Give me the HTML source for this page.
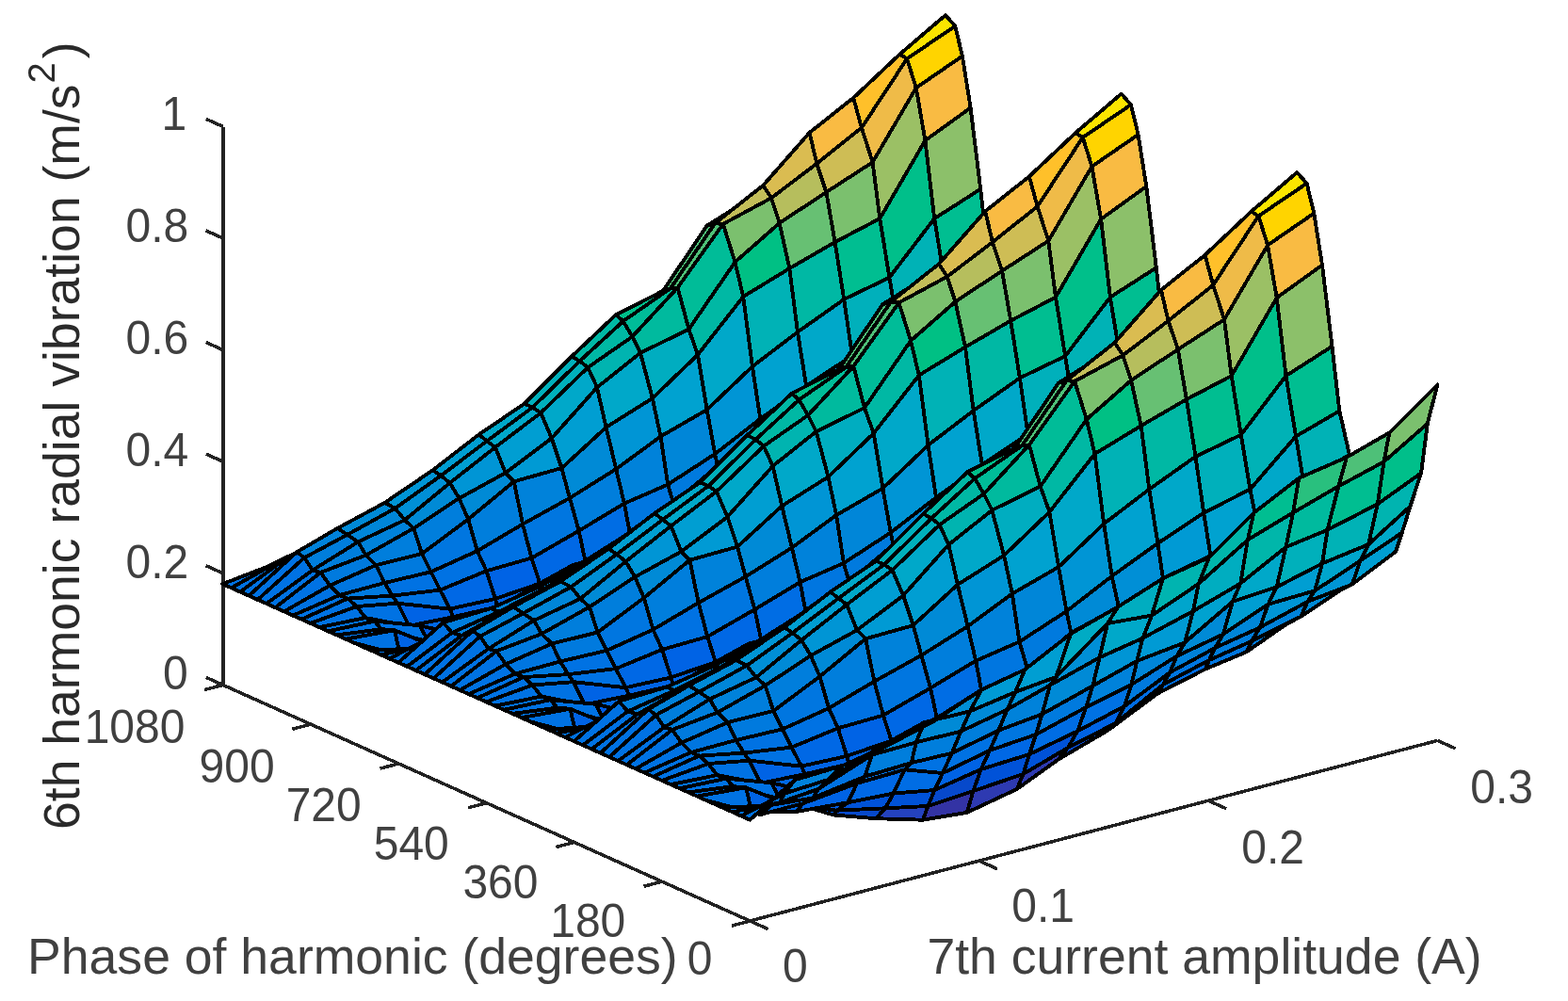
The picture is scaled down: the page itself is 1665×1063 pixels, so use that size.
<!DOCTYPE html>
<html lang="en"><head><meta charset="utf-8"><title>6th harmonic radial vibration</title>
<style>html,body{margin:0;padding:0;background:#fff}body{width:1665px;height:1063px;overflow:hidden}svg{display:block}text{font-family:"Liberation Sans",Arial,Helvetica,sans-serif;fill:#404040}.t{font-size:48px}.l{font-size:53.55px}</style></head><body>
<svg width="1665" height="1063" viewBox="0 0 1665 1063">
<rect width="1665" height="1063" fill="#fff"/>
<path d="M1526.5,786.4 L796.3,978.0 L237.0,727.5 L237.0,134.5 M796.3,978.0 L815.5,986.6 M1039.7,914.1 L1058.9,922.7 M1283.1,850.3 L1302.3,858.8 M1526.5,786.4 L1545.7,795.0 M796.3,978.0 L777.0,983.1 M703.0,936.2 L683.6,941.3 M609.6,894.5 L590.3,899.6 M516.3,852.8 L497.0,857.8 M423.0,811.0 L403.6,816.1 M329.6,769.2 L310.3,774.3 M236.3,727.5 L217.0,732.6 M237.0,727.5 L218.7,719.3 M237.0,608.9 L218.7,600.7 M237.0,490.3 L218.7,482.1 M237.0,371.7 L218.7,363.5 M237.0,253.1 L218.7,244.9 M237.0,134.5 L218.7,126.3" fill="none" stroke="#222222" stroke-width="3.5" stroke-linejoin="miter" shape-rendering="crispEdges"/>
<g stroke="#000" stroke-width="3.9" stroke-linejoin="round" shape-rendering="crispEdges">
<path d="M927.2,162.1 L975.8,118.2 L966.4,157.9 L915.3,209.0Z" fill="#cebd55"/>
<path d="M878.5,195.5 L927.2,162.1 L915.3,209.0 L870.0,235.1Z" fill="#a9bf61"/>
<path d="M829.8,226.6 L878.5,195.5 L870.0,235.1 L819.3,257.2Z" fill="#8cc06a"/>
<path d="M781.1,265.3 L829.8,226.6 L819.3,257.2 L771.3,294.2Z" fill="#4ec078"/>
<path d="M732.4,307.8 L781.1,265.3 L771.3,294.2 L724.0,341.4Z" fill="#00be91"/>
<path d="M683.8,340.8 L732.4,307.8 L724.0,341.4 L674.9,363.7Z" fill="#00ba9e"/>
<path d="M635.1,374.3 L683.8,340.8 L674.9,363.7 L627.3,393.8Z" fill="#00b4b0"/>
<path d="M586.4,408.5 L635.1,374.3 L627.3,393.8 L577.0,422.5Z" fill="#00b0bb"/>
<path d="M537.7,444.5 L586.4,408.5 L577.0,422.5 L528.4,460.5Z" fill="#00a8c9"/>
<path d="M489.0,478.5 L537.7,444.5 L528.4,460.5 L482.0,484.0Z" fill="#00a2d0"/>
<path d="M440.4,514.3 L489.0,478.5 L482.0,484.0 L432.0,520.0Z" fill="#0095d5"/>
<path d="M391.7,545.0 L440.4,514.3 L432.0,520.0 L383.3,549.5Z" fill="#008ad6"/>
<path d="M343.0,572.0 L391.7,545.0 L383.3,549.5 L334.7,576.9Z" fill="#0082da"/>
<path d="M293.3,597.7 L343.0,572.0 L334.7,576.9 L284.0,601.7Z" fill="#007edc"/>
<path d="M245.6,624.3 L293.3,597.7 L284.0,601.7 L236.3,620.2Z" fill="#0072e3"/>
<path d="M936.5,117.3 L985.2,77.8 L975.8,118.2 L927.2,162.1Z" fill="#ffbc35"/>
<path d="M887.8,156.6 L936.5,117.3 L927.2,162.1 L878.5,195.5Z" fill="#efbb48"/>
<path d="M839.1,195.6 L887.8,156.6 L878.5,195.5 L829.8,226.6Z" fill="#c3be59"/>
<path d="M790.4,233.7 L839.1,195.6 L829.8,226.6 L781.1,265.3Z" fill="#9bc065"/>
<path d="M741.8,270.0 L790.4,233.7 L781.1,265.3 L732.4,307.8Z" fill="#67c073"/>
<path d="M693.1,319.4 L741.8,270.0 L732.4,307.8 L683.8,340.8Z" fill="#00bf8a"/>
<path d="M644.4,354.4 L693.1,319.4 L683.8,340.8 L635.1,374.3Z" fill="#00ba9e"/>
<path d="M595.7,393.9 L644.4,354.4 L635.1,374.3 L586.4,408.5Z" fill="#00b4b0"/>
<path d="M547.0,437.4 L595.7,393.9 L586.4,408.5 L537.7,444.5Z" fill="#00adc0"/>
<path d="M498.4,471.3 L547.0,437.4 L537.7,444.5 L489.0,478.5Z" fill="#00a5cc"/>
<path d="M449.7,508.0 L498.4,471.3 L489.0,478.5 L440.4,514.3Z" fill="#009ad4"/>
<path d="M401.0,540.0 L449.7,508.0 L440.4,514.3 L391.7,545.0Z" fill="#008fd6"/>
<path d="M352.3,566.5 L401.0,540.0 L391.7,545.0 L343.0,572.0Z" fill="#0086d8"/>
<path d="M303.6,593.2 L352.3,566.5 L343.0,572.0 L293.3,597.7Z" fill="#007edc"/>
<path d="M255.0,628.5 L303.6,593.2 L293.3,597.7 L245.6,624.3Z" fill="#0072e3"/>
<path d="M945.8,81.3 L994.5,40.4 L985.2,77.8 L936.5,117.3Z" fill="#ffd400"/>
<path d="M897.1,124.4 L945.8,81.3 L936.5,117.3 L887.8,156.6Z" fill="#ffc02a"/>
<path d="M848.5,165.1 L897.1,124.4 L887.8,156.6 L839.1,195.6Z" fill="#f9bb43"/>
<path d="M799.8,208.7 L848.5,165.1 L839.1,195.6 L790.4,233.7Z" fill="#cebd55"/>
<path d="M750.5,239.8 L799.8,208.7 L790.4,233.7 L741.8,270.0Z" fill="#b6be5d"/>
<path d="M704.2,308.8 L750.5,239.8 L741.8,270.0 L693.1,319.4Z" fill="#29c07e"/>
<path d="M654.0,334.3 L704.2,308.8 L693.1,319.4 L644.4,354.4Z" fill="#00bf8a"/>
<path d="M607.0,378.6 L654.0,334.3 L644.4,354.4 L595.7,393.9Z" fill="#00b8a4"/>
<path d="M556.8,428.7 L607.0,378.6 L595.7,393.9 L547.0,437.4Z" fill="#00b0bb"/>
<path d="M508.5,461.5 L556.8,428.7 L547.0,437.4 L498.4,471.3Z" fill="#00a8c9"/>
<path d="M459.6,499.3 L508.5,461.5 L498.4,471.3 L449.7,508.0Z" fill="#009ed2"/>
<path d="M408.4,534.0 L459.6,499.3 L449.7,508.0 L401.0,540.0Z" fill="#0095d5"/>
<path d="M358.3,561.0 L408.4,534.0 L401.0,540.0 L352.3,566.5Z" fill="#008ad6"/>
<path d="M315.3,586.2 L358.3,561.0 L352.3,566.5 L303.6,593.2Z" fill="#0082da"/>
<path d="M264.3,632.7 L315.3,586.2 L303.6,593.2 L255.0,628.5Z" fill="#0072e3"/>
<path d="M955.4,57.6 L1004.0,16.1 L994.5,40.4 L945.8,81.3Z" fill="#fbe500"/>
<path d="M906.2,103.9 L955.4,57.6 L945.8,81.3 L897.1,124.4Z" fill="#ffcf00"/>
<path d="M859.6,140.9 L906.2,103.9 L897.1,124.4 L848.5,165.1Z" fill="#ffc02a"/>
<path d="M810.4,196.8 L859.6,140.9 L848.5,165.1 L799.8,208.7Z" fill="#e5bc4d"/>
<path d="M759.1,237.3 L810.4,196.8 L799.8,208.7 L750.5,239.8Z" fill="#b6be5d"/>
<path d="M711.9,306.3 L759.1,237.3 L750.5,239.8 L704.2,308.8Z" fill="#4ec078"/>
<path d="M661.7,341.1 L711.9,306.3 L704.2,308.8 L654.0,334.3Z" fill="#00bf8a"/>
<path d="M615.6,383.4 L661.7,341.1 L654.0,334.3 L607.0,378.6Z" fill="#00b8a4"/>
<path d="M565.5,432.6 L615.6,383.4 L607.0,378.6 L556.8,428.7Z" fill="#00b0bb"/>
<path d="M517.0,468.4 L565.5,432.6 L556.8,428.7 L508.5,461.5Z" fill="#00a8c9"/>
<path d="M468.2,505.1 L517.0,468.4 L508.5,461.5 L459.6,499.3Z" fill="#009ed2"/>
<path d="M419.6,539.8 L468.2,505.1 L459.6,499.3 L408.4,534.0Z" fill="#0095d5"/>
<path d="M368.9,567.8 L419.6,539.8 L408.4,534.0 L358.3,561.0Z" fill="#008ad6"/>
<path d="M323.1,592.3 L368.9,567.8 L358.3,561.0 L315.3,586.2Z" fill="#0082da"/>
<path d="M273.6,636.9 L323.1,592.3 L315.3,586.2 L264.3,632.7Z" fill="#0072e3"/>
<path d="M963.1,62.4 L1014.2,27.7 L1004.0,16.1 L955.4,57.6Z" fill="#fbe500"/>
<path d="M914.9,135.7 L963.1,62.4 L955.4,57.6 L906.2,103.9Z" fill="#ffc02a"/>
<path d="M867.3,173.7 L914.9,135.7 L906.2,103.9 L859.6,140.9Z" fill="#f9bb43"/>
<path d="M819.0,210.3 L867.3,173.7 L859.6,140.9 L810.4,196.8Z" fill="#dabc51"/>
<path d="M767.8,237.9 L819.0,210.3 L810.4,196.8 L759.1,237.3Z" fill="#c3be59"/>
<path d="M719.6,305.4 L767.8,237.9 L759.1,237.3 L711.9,306.3Z" fill="#4ec078"/>
<path d="M671.4,357.5 L719.6,305.4 L711.9,306.3 L661.7,341.1Z" fill="#00bc98"/>
<path d="M624.3,390.2 L671.4,357.5 L661.7,341.1 L615.6,383.4Z" fill="#00b8a4"/>
<path d="M574.2,438.4 L624.3,390.2 L615.6,383.4 L565.5,432.6Z" fill="#00b0bb"/>
<path d="M525.9,475.0 L574.2,438.4 L565.5,432.6 L517.0,468.4Z" fill="#00a8c9"/>
<path d="M477.7,512.8 L525.9,475.0 L517.0,468.4 L468.2,505.1Z" fill="#009ed2"/>
<path d="M429.7,552.3 L477.7,512.8 L468.2,505.1 L419.6,539.8Z" fill="#008fd6"/>
<path d="M380.3,575.4 L429.7,552.3 L419.6,539.8 L368.9,567.8Z" fill="#0086d8"/>
<path d="M331.9,605.5 L380.3,575.4 L368.9,567.8 L323.1,592.3Z" fill="#007edc"/>
<path d="M283.0,641.0 L331.9,605.5 L323.1,592.3 L273.6,636.9Z" fill="#0072e3"/>
<path d="M972.8,93.3 L1021.9,59.5 L1014.2,27.7 L963.1,62.4Z" fill="#ffd400"/>
<path d="M926.6,172.3 L972.8,93.3 L963.1,62.4 L914.9,135.7Z" fill="#efbb48"/>
<path d="M877.4,204.1 L926.6,172.3 L914.9,135.7 L867.3,173.7Z" fill="#cebd55"/>
<path d="M827.7,236.9 L877.4,204.1 L867.3,173.7 L819.0,210.3Z" fill="#b6be5d"/>
<path d="M780.5,278.3 L827.7,236.9 L819.0,210.3 L767.8,237.9Z" fill="#7bc06e"/>
<path d="M731.4,349.6 L780.5,278.3 L767.8,237.9 L719.6,305.4Z" fill="#00bc98"/>
<path d="M680.0,374.8 L731.4,349.6 L719.6,305.4 L671.4,357.5Z" fill="#00ba9e"/>
<path d="M634.0,411.4 L680.0,374.8 L671.4,357.5 L624.3,390.2Z" fill="#00b4b0"/>
<path d="M585.8,465.4 L634.0,411.4 L624.3,390.2 L574.2,438.4Z" fill="#00a8c9"/>
<path d="M536.7,502.2 L585.8,465.4 L574.2,438.4 L525.9,475.0Z" fill="#009ed2"/>
<path d="M487.5,529.2 L536.7,502.2 L525.9,475.0 L477.7,512.8Z" fill="#0095d5"/>
<path d="M439.3,561.0 L487.5,529.2 L477.7,512.8 L429.7,552.3Z" fill="#008ad6"/>
<path d="M388.5,589.6 L439.3,561.0 L429.7,552.3 L380.3,575.4Z" fill="#0082da"/>
<path d="M340.6,607.9 L388.5,589.6 L380.3,575.4 L331.9,605.5Z" fill="#007edc"/>
<path d="M292.3,645.2 L340.6,607.9 L331.9,605.5 L283.0,641.0Z" fill="#0072e3"/>
<path d="M982.4,149.2 L1030.6,114.5 L1021.9,59.5 L972.8,93.3Z" fill="#f9bb43"/>
<path d="M934.3,232.1 L982.4,149.2 L972.8,93.3 L926.6,172.3Z" fill="#9bc065"/>
<path d="M886.6,257.1 L934.3,232.1 L926.6,172.3 L877.4,204.1Z" fill="#7bc06e"/>
<path d="M838.3,285.1 L886.6,257.1 L877.4,204.1 L827.7,236.9Z" fill="#67c073"/>
<path d="M789.2,315.0 L838.3,285.1 L827.7,236.9 L780.5,278.3Z" fill="#00c084"/>
<path d="M741.0,376.7 L789.2,315.0 L780.5,278.3 L731.4,349.6Z" fill="#00b8a4"/>
<path d="M692.8,422.9 L741.0,376.7 L731.4,349.6 L680.0,374.8Z" fill="#00adc0"/>
<path d="M643.6,453.8 L692.8,422.9 L680.0,374.8 L634.0,411.4Z" fill="#00a8c9"/>
<path d="M596.4,497.1 L643.6,453.8 L634.0,411.4 L585.8,465.4Z" fill="#009ed2"/>
<path d="M545.8,511.3 L596.4,497.1 L585.8,465.4 L536.7,502.2Z" fill="#009ad4"/>
<path d="M497.2,551.4 L545.8,511.3 L536.7,502.2 L487.5,529.2Z" fill="#008ad6"/>
<path d="M448.0,588.0 L497.2,551.4 L487.5,529.2 L439.3,561.0Z" fill="#007edc"/>
<path d="M399.3,600.1 L448.0,588.0 L439.3,561.0 L388.5,589.6Z" fill="#007edc"/>
<path d="M350.2,621.8 L399.3,600.1 L388.5,589.6 L340.6,607.9Z" fill="#007ade"/>
<path d="M301.6,649.4 L350.2,621.8 L340.6,607.9 L292.3,645.2Z" fill="#0072e3"/>
<path d="M992.2,232.1 L1041.2,200.8 L1030.6,114.5 L982.4,149.2Z" fill="#8cc06a"/>
<path d="M944.4,294.7 L992.2,232.1 L982.4,149.2 L934.3,232.1Z" fill="#00bf8a"/>
<path d="M896.2,317.9 L944.4,294.7 L934.3,232.1 L886.6,257.1Z" fill="#00be91"/>
<path d="M847.0,352.6 L896.2,317.9 L886.6,257.1 L838.3,285.1Z" fill="#00b8a4"/>
<path d="M798.9,389.2 L847.0,352.6 L838.3,285.1 L789.2,315.0Z" fill="#00b2b6"/>
<path d="M750.7,435.1 L798.9,389.2 L789.2,315.0 L741.0,376.7Z" fill="#00a8c9"/>
<path d="M701.5,463.5 L750.7,435.1 L741.0,376.7 L692.8,422.9Z" fill="#00a2d0"/>
<path d="M654.2,498.1 L701.5,463.5 L692.8,422.9 L643.6,453.8Z" fill="#0095d5"/>
<path d="M605.0,528.9 L654.2,498.1 L643.6,453.8 L596.4,497.1Z" fill="#008ad6"/>
<path d="M555.0,556.6 L605.0,528.9 L596.4,497.1 L545.8,511.3Z" fill="#0082da"/>
<path d="M506.8,585.1 L555.0,556.6 L545.8,511.3 L497.2,551.4Z" fill="#007edc"/>
<path d="M457.6,607.3 L506.8,585.1 L497.2,551.4 L448.0,588.0Z" fill="#0076e0"/>
<path d="M408.3,619.0 L457.6,607.3 L448.0,588.0 L399.3,600.1Z" fill="#007ade"/>
<path d="M360.5,632.0 L408.3,619.0 L399.3,600.1 L350.2,621.8Z" fill="#0076e0"/>
<path d="M311.0,653.6 L360.5,632.0 L350.2,621.8 L301.6,649.4Z" fill="#0072e3"/>
<path d="M1002.7,296.4 L1048.9,269.4 L1041.2,200.8 L992.2,232.1Z" fill="#00be91"/>
<path d="M954.1,352.6 L1002.7,296.4 L992.2,232.1 L944.4,294.7Z" fill="#00b2b6"/>
<path d="M904.9,377.7 L954.1,352.6 L944.4,294.7 L896.2,317.9Z" fill="#00b0bb"/>
<path d="M856.1,409.9 L904.9,377.7 L896.2,317.9 L847.0,352.6Z" fill="#00a8c9"/>
<path d="M807.3,444.8 L856.1,409.9 L847.0,352.6 L798.9,389.2Z" fill="#00a2d0"/>
<path d="M759.2,482.1 L807.3,444.8 L798.9,389.2 L750.7,435.1Z" fill="#0095d5"/>
<path d="M709.2,514.5 L759.2,482.1 L750.7,435.1 L701.5,463.5Z" fill="#0086d8"/>
<path d="M662.9,534.7 L709.2,514.5 L701.5,463.5 L654.2,498.1Z" fill="#0082da"/>
<path d="M614.7,563.7 L662.9,534.7 L654.2,498.1 L605.0,528.9Z" fill="#007edc"/>
<path d="M564.5,592.6 L614.7,563.7 L605.0,528.9 L555.0,556.6Z" fill="#0076e0"/>
<path d="M516.5,606.3 L564.5,592.6 L555.0,556.6 L506.8,585.1Z" fill="#0072e3"/>
<path d="M467.3,626.6 L516.5,606.3 L506.8,585.1 L457.6,607.3Z" fill="#0072e3"/>
<path d="M416.7,632.6 L467.3,626.6 L457.6,607.3 L408.3,619.0Z" fill="#0072e3"/>
<path d="M369.2,635.6 L416.7,632.6 L408.3,619.0 L360.5,632.0Z" fill="#007ade"/>
<path d="M320.3,657.7 L369.2,635.6 L360.5,632.0 L311.0,653.6Z" fill="#0072e3"/>
<path d="M1011.2,346.4 L1059.6,315.7 L1048.9,269.4 L1002.7,296.4Z" fill="#00b2b6"/>
<path d="M962.5,393.5 L1011.2,346.4 L1002.7,296.4 L954.1,352.6Z" fill="#00a8c9"/>
<path d="M912.1,423.1 L962.5,393.5 L954.1,352.6 L904.9,377.7Z" fill="#00a2d0"/>
<path d="M861.5,447.2 L912.1,423.1 L904.9,377.7 L856.1,409.9Z" fill="#009ad4"/>
<path d="M814.6,477.3 L861.5,447.2 L856.1,409.9 L807.3,444.8Z" fill="#008fd6"/>
<path d="M764.0,505.0 L814.6,477.3 L807.3,444.8 L759.2,482.1Z" fill="#008ad6"/>
<path d="M717.9,544.4 L764.0,505.0 L759.2,482.1 L709.2,514.5Z" fill="#007ade"/>
<path d="M668.7,565.6 L717.9,544.4 L709.2,514.5 L662.9,534.7Z" fill="#0076e0"/>
<path d="M621.4,595.5 L668.7,565.6 L662.9,534.7 L614.7,563.7Z" fill="#006de4"/>
<path d="M573.2,619.6 L621.4,595.5 L614.7,563.7 L564.5,592.6Z" fill="#0068e5"/>
<path d="M525.9,635.9 L573.2,619.6 L564.5,592.6 L516.5,606.3Z" fill="#0063e5"/>
<path d="M477.7,646.7 L525.9,635.9 L516.5,606.3 L467.3,626.6Z" fill="#0068e5"/>
<path d="M422.3,640.7 L477.7,646.7 L467.3,626.6 L416.7,632.6Z" fill="#0072e3"/>
<path d="M378.8,644.0 L422.3,640.7 L416.7,632.6 L369.2,635.6Z" fill="#0076e0"/>
<path d="M329.6,661.9 L378.8,644.0 L369.2,635.6 L320.3,657.7Z" fill="#0072e3"/>
<path d="M1020.5,388.2 L1069.2,353.5 L1059.6,315.7 L1011.2,346.4Z" fill="#00a5cc"/>
<path d="M971.8,438.7 L1020.5,388.2 L1011.2,346.4 L962.5,393.5Z" fill="#0095d5"/>
<path d="M924.1,463.0 L971.8,438.7 L962.5,393.5 L912.1,423.1Z" fill="#008ad6"/>
<path d="M875.4,487.6 L924.1,463.0 L912.1,423.1 L861.5,447.2Z" fill="#0086d8"/>
<path d="M826.8,512.3 L875.4,487.6 L861.5,447.2 L814.6,477.3Z" fill="#0082da"/>
<path d="M777.1,535.9 L826.8,512.3 L814.6,477.3 L764.0,505.0Z" fill="#007ade"/>
<path d="M728.4,566.0 L777.1,535.9 L764.0,505.0 L717.9,544.4Z" fill="#0072e3"/>
<path d="M679.7,589.8 L728.4,566.0 L717.9,544.4 L668.7,565.6Z" fill="#006de4"/>
<path d="M631.0,613.6 L679.7,589.8 L668.7,565.6 L621.4,595.5Z" fill="#0063e5"/>
<path d="M582.4,630.4 L631.0,613.6 L621.4,595.5 L573.2,619.6Z" fill="#0063e5"/>
<path d="M528.3,644.3 L582.4,630.4 L573.2,619.6 L525.9,635.9Z" fill="#0063e5"/>
<path d="M481.3,655.1 L528.3,644.3 L525.9,635.9 L477.7,646.7Z" fill="#0063e5"/>
<path d="M434.4,664.8 L481.3,655.1 L477.7,646.7 L422.3,640.7Z" fill="#0063e5"/>
<path d="M388.1,656.1 L434.4,664.8 L422.3,640.7 L378.8,644.0Z" fill="#0072e3"/>
<path d="M339.0,666.1 L388.1,656.1 L378.8,644.0 L329.6,661.9Z" fill="#0072e3"/>
<path d="M1029.8,429.3 L1078.5,387.3 L1069.2,353.5 L1020.5,388.2Z" fill="#0095d5"/>
<path d="M983.1,471.0 L1029.8,429.3 L1020.5,388.2 L971.8,438.7Z" fill="#0082da"/>
<path d="M935.5,502.8 L983.1,471.0 L971.8,438.7 L924.1,463.0Z" fill="#007ade"/>
<path d="M886.8,527.4 L935.5,502.8 L924.1,463.0 L875.4,487.6Z" fill="#0076e0"/>
<path d="M838.1,552.0 L886.8,527.4 L875.4,487.6 L826.8,512.3Z" fill="#006de4"/>
<path d="M786.4,576.8 L838.1,552.0 L826.8,512.3 L777.1,535.9Z" fill="#0068e5"/>
<path d="M737.7,612.1 L786.4,576.8 L777.1,535.9 L728.4,566.0Z" fill="#0052d8"/>
<path d="M689.1,641.8 L737.7,612.1 L728.4,566.0 L679.7,589.8Z" fill="#2442be"/>
<path d="M640.4,664.2 L689.1,641.8 L679.7,589.8 L631.0,613.6Z" fill="#2e3ab1"/>
<path d="M591.7,673.0 L640.4,664.2 L631.0,613.6 L582.4,630.4Z" fill="#2e3ab1"/>
<path d="M543.0,672.1 L591.7,673.0 L582.4,630.4 L528.3,644.3Z" fill="#0749cb"/>
<path d="M494.3,675.6 L543.0,672.1 L528.3,644.3 L481.3,655.1Z" fill="#0052d8"/>
<path d="M445.7,664.3 L494.3,675.6 L481.3,655.1 L434.4,664.8Z" fill="#0068e5"/>
<path d="M397.8,659.7 L445.7,664.3 L434.4,664.8 L388.1,656.1Z" fill="#0072e3"/>
<path d="M348.3,670.3 L397.8,659.7 L388.1,656.1 L339.0,666.1Z" fill="#0072e3"/>
<path d="M1041.2,447.6 L1088.8,412.3 L1078.5,387.3 L1029.8,429.3Z" fill="#008ad6"/>
<path d="M993.5,495.3 L1041.2,447.6 L1029.8,429.3 L983.1,471.0Z" fill="#007ade"/>
<path d="M950.1,525.4 L993.5,495.3 L983.1,471.0 L935.5,502.8Z" fill="#0072e3"/>
<path d="M906.6,543.5 L950.1,525.4 L935.5,502.8 L886.8,527.4Z" fill="#006de4"/>
<path d="M855.9,569.5 L906.6,543.5 L886.8,527.4 L838.1,552.0Z" fill="#0068e5"/>
<path d="M803.3,608.5 L855.9,569.5 L838.1,552.0 L786.4,576.8Z" fill="#0749cb"/>
<path d="M750.2,639.7 L803.3,608.5 L786.4,576.8 L737.7,612.1Z" fill="#2e3ab1"/>
<path d="M706.5,671.0 L750.2,639.7 L737.7,612.1 L689.1,641.8Z" fill="#352d97"/>
<path d="M653.4,695.9 L706.5,671.0 L689.1,641.8 L640.4,664.2Z" fill="#36268b"/>
<path d="M606.6,703.7 L653.4,695.9 L640.4,664.2 L591.7,673.0Z" fill="#36268b"/>
<path d="M556.6,702.2 L606.6,703.7 L591.7,673.0 L543.0,672.1Z" fill="#3333a4"/>
<path d="M511.7,698.5 L556.6,702.2 L543.0,672.1 L494.3,675.6Z" fill="#2442be"/>
<path d="M455.0,681.5 L511.7,698.5 L494.3,675.6 L445.7,664.3Z" fill="#005be2"/>
<path d="M405.0,668.1 L455.0,681.5 L445.7,664.3 L397.8,659.7Z" fill="#0072e3"/>
<path d="M357.6,674.4 L405.0,668.1 L397.8,659.7 L348.3,670.3Z" fill="#0072e3"/>
<path d="M1051.5,458.9 L1099.2,424.2 L1088.8,412.3 L1041.2,447.6Z" fill="#0086d8"/>
<path d="M1008.0,487.8 L1051.5,458.9 L1041.2,447.6 L993.5,495.3Z" fill="#007edc"/>
<path d="M955.9,513.8 L1008.0,487.8 L993.5,495.3 L950.1,525.4Z" fill="#007ade"/>
<path d="M910.7,534.0 L955.9,513.8 L950.1,525.4 L906.6,543.5Z" fill="#0076e0"/>
<path d="M861.7,560.0 L910.7,534.0 L906.6,543.5 L855.9,569.5Z" fill="#006de4"/>
<path d="M811.2,601.0 L861.7,560.0 L855.9,569.5 L803.3,608.5Z" fill="#005be2"/>
<path d="M760.7,627.0 L811.2,601.0 L803.3,608.5 L750.2,639.7Z" fill="#0749cb"/>
<path d="M713.2,655.0 L760.7,627.0 L750.2,639.7 L706.5,671.0Z" fill="#2e3ab1"/>
<path d="M660.2,673.0 L713.2,655.0 L706.5,671.0 L653.4,695.9Z" fill="#2e3ab1"/>
<path d="M612.2,689.0 L660.2,673.0 L653.4,695.9 L606.6,703.7Z" fill="#3333a4"/>
<path d="M566.8,691.3 L612.2,689.0 L606.6,703.7 L556.6,702.2Z" fill="#2442be"/>
<path d="M515.0,693.7 L566.8,691.3 L556.6,702.2 L511.7,698.5Z" fill="#0749cb"/>
<path d="M464.3,687.6 L515.0,693.7 L511.7,698.5 L455.0,681.5Z" fill="#005be2"/>
<path d="M418.9,669.3 L464.3,687.6 L455.0,681.5 L405.0,668.1Z" fill="#0072e3"/>
<path d="M367.0,678.6 L418.9,669.3 L405.0,668.1 L357.6,674.4Z" fill="#0072e3"/>
<path d="M1062.4,453.6 L1108.7,418.8 L1099.2,424.2 L1051.5,458.9Z" fill="#008fd6"/>
<path d="M1015.3,471.8 L1062.4,453.6 L1051.5,458.9 L1008.0,487.8Z" fill="#008ad6"/>
<path d="M964.6,499.3 L1015.3,471.8 L1008.0,487.8 L955.9,513.8Z" fill="#0082da"/>
<path d="M916.8,521.1 L964.6,499.3 L955.9,513.8 L910.7,534.0Z" fill="#007edc"/>
<path d="M869.0,547.1 L916.8,521.1 L910.7,534.0 L861.7,560.0Z" fill="#0076e0"/>
<path d="M820.8,582.9 L869.0,547.1 L861.7,560.0 L811.2,601.0Z" fill="#006de4"/>
<path d="M770.9,609.4 L820.8,582.9 L811.2,601.0 L760.7,627.0Z" fill="#0063e5"/>
<path d="M719.7,634.0 L770.9,609.4 L760.7,627.0 L713.2,655.0Z" fill="#0052d8"/>
<path d="M668.3,650.0 L719.7,634.0 L713.2,655.0 L660.2,673.0Z" fill="#0052d8"/>
<path d="M619.1,672.0 L668.3,650.0 L660.2,673.0 L612.2,689.0Z" fill="#0749cb"/>
<path d="M575.2,675.6 L619.1,672.0 L612.2,689.0 L566.8,691.3Z" fill="#0052d8"/>
<path d="M527.1,685.2 L575.2,675.6 L566.8,691.3 L515.0,693.7Z" fill="#0052d8"/>
<path d="M472.9,694.9 L527.1,685.2 L515.0,693.7 L464.3,687.6Z" fill="#005be2"/>
<path d="M425.0,695.7 L472.9,694.9 L464.3,687.6 L418.9,669.3Z" fill="#0063e5"/>
<path d="M376.3,682.8 L425.0,695.7 L418.9,669.3 L367.0,678.6Z" fill="#0072e3"/>
<path d="M1071.1,428.5 L1115.5,398.6 L1108.7,418.8 L1062.4,453.6Z" fill="#009ed2"/>
<path d="M1022.9,460.3 L1071.1,428.5 L1062.4,453.6 L1015.3,471.8Z" fill="#0095d5"/>
<path d="M973.3,474.7 L1022.9,460.3 L1015.3,471.8 L964.6,499.3Z" fill="#0095d5"/>
<path d="M925.5,506.6 L973.3,474.7 L964.6,499.3 L916.8,521.1Z" fill="#0086d8"/>
<path d="M876.2,529.8 L925.5,506.6 L916.8,521.1 L869.0,547.1Z" fill="#0082da"/>
<path d="M828.0,560.0 L876.2,529.8 L869.0,547.1 L820.8,582.9Z" fill="#007ade"/>
<path d="M779.9,584.1 L828.0,560.0 L820.8,582.9 L770.9,609.4Z" fill="#0072e3"/>
<path d="M726.7,613.0 L779.9,584.1 L770.9,609.4 L719.7,634.0Z" fill="#006de4"/>
<path d="M677.7,629.9 L726.7,613.0 L719.7,634.0 L668.3,650.0Z" fill="#0068e5"/>
<path d="M627.7,654.0 L677.7,629.9 L668.3,650.0 L619.1,672.0Z" fill="#0063e5"/>
<path d="M587.3,650.3 L627.7,654.0 L619.1,672.0 L575.2,675.6Z" fill="#006de4"/>
<path d="M536.7,664.8 L587.3,650.3 L575.2,675.6 L527.1,685.2Z" fill="#0068e5"/>
<path d="M478.9,686.4 L536.7,664.8 L527.1,685.2 L472.9,694.9Z" fill="#0063e5"/>
<path d="M434.3,698.0 L478.9,686.4 L472.9,694.9 L425.0,695.7Z" fill="#0068e5"/>
<path d="M385.6,687.0 L434.3,698.0 L425.0,695.7 L376.3,682.8Z" fill="#0072e3"/>
<path d="M1079.8,411.1 L1124.2,370.6 L1115.5,398.6 L1071.1,428.5Z" fill="#00a8c9"/>
<path d="M1030.6,431.4 L1079.8,411.1 L1071.1,428.5 L1022.9,460.3Z" fill="#00a5cc"/>
<path d="M982.4,456.4 L1030.6,431.4 L1022.9,460.3 L973.3,474.7Z" fill="#009ed2"/>
<path d="M935.6,471.8 L982.4,456.4 L973.3,474.7 L925.5,506.6Z" fill="#009ed2"/>
<path d="M884.9,515.3 L935.6,471.8 L925.5,506.6 L876.2,529.8Z" fill="#008ad6"/>
<path d="M834.1,534.8 L884.9,515.3 L876.2,529.8 L828.0,560.0Z" fill="#0086d8"/>
<path d="M787.1,561.3 L834.1,534.8 L828.0,560.0 L779.9,584.1Z" fill="#0082da"/>
<path d="M733.3,591.4 L787.1,561.3 L779.9,584.1 L726.7,613.0Z" fill="#007ade"/>
<path d="M687.0,608.7 L733.3,591.4 L726.7,613.0 L677.7,629.9Z" fill="#0076e0"/>
<path d="M637.4,632.8 L687.0,608.7 L677.7,629.9 L627.7,654.0Z" fill="#0072e3"/>
<path d="M594.5,643.1 L637.4,632.8 L627.7,654.0 L587.3,650.3Z" fill="#0072e3"/>
<path d="M545.1,657.6 L594.5,643.1 L587.3,650.3 L536.7,664.8Z" fill="#0072e3"/>
<path d="M489.7,680.4 L545.1,657.6 L536.7,664.8 L478.9,686.4Z" fill="#006de4"/>
<path d="M446.4,687.7 L489.7,680.4 L478.9,686.4 L434.3,698.0Z" fill="#006de4"/>
<path d="M395.0,691.1 L446.4,687.7 L434.3,698.0 L385.6,687.0Z" fill="#0072e3"/>
<path d="M1089.5,368.3 L1135.7,335.3 L1124.2,370.6 L1079.8,411.1Z" fill="#00b4b0"/>
<path d="M1036.4,395.7 L1089.5,368.3 L1079.8,411.1 L1030.6,431.4Z" fill="#00b2b6"/>
<path d="M992.0,414.0 L1036.4,395.7 L1030.6,431.4 L982.4,456.4Z" fill="#00b0bb"/>
<path d="M943.8,452.6 L992.0,414.0 L982.4,456.4 L935.6,471.8Z" fill="#00a8c9"/>
<path d="M893.6,482.0 L943.8,452.6 L935.6,471.8 L884.9,515.3Z" fill="#00a2d0"/>
<path d="M840.1,510.7 L893.6,482.0 L884.9,515.3 L834.1,534.8Z" fill="#009ad4"/>
<path d="M794.3,531.2 L840.1,510.7 L834.1,534.8 L787.1,561.3Z" fill="#0095d5"/>
<path d="M741.6,560.7 L794.3,531.2 L787.1,561.3 L733.3,591.4Z" fill="#008ad6"/>
<path d="M696.2,586.5 L741.6,560.7 L733.3,591.4 L687.0,608.7Z" fill="#0082da"/>
<path d="M647.1,609.6 L696.2,586.5 L687.0,608.7 L637.4,632.8Z" fill="#007edc"/>
<path d="M599.3,621.4 L647.1,609.6 L637.4,632.8 L594.5,643.1Z" fill="#007edc"/>
<path d="M552.4,634.7 L599.3,621.4 L594.5,643.1 L545.1,657.6Z" fill="#007edc"/>
<path d="M495.8,670.8 L552.4,634.7 L545.1,657.6 L489.7,680.4Z" fill="#0072e3"/>
<path d="M454.8,685.2 L495.8,670.8 L489.7,680.4 L446.4,687.7Z" fill="#0072e3"/>
<path d="M404.3,695.3 L454.8,685.2 L446.4,687.7 L395.0,691.1Z" fill="#0072e3"/>
<path d="M1096.2,323.4 L1142.5,282.9 L1135.7,335.3 L1089.5,368.3Z" fill="#00bf8a"/>
<path d="M1048.0,349.4 L1096.2,323.4 L1089.5,368.3 L1036.4,395.7Z" fill="#00be91"/>
<path d="M999.8,377.4 L1048.0,349.4 L1036.4,395.7 L992.0,414.0Z" fill="#00ba9e"/>
<path d="M951.5,406.3 L999.8,377.4 L992.0,414.0 L943.8,452.6Z" fill="#00b6aa"/>
<path d="M899.4,453.0 L951.5,406.3 L943.8,452.6 L893.6,482.0Z" fill="#00adc0"/>
<path d="M849.7,486.6 L899.4,453.0 L893.6,482.0 L840.1,510.7Z" fill="#00a5cc"/>
<path d="M802.8,495.0 L849.7,486.6 L840.1,510.7 L794.3,531.2Z" fill="#00a8c9"/>
<path d="M748.1,551.9 L802.8,495.0 L794.3,531.2 L741.6,560.7Z" fill="#008fd6"/>
<path d="M704.7,568.0 L748.1,551.9 L741.6,560.7 L696.2,586.5Z" fill="#008fd6"/>
<path d="M656.7,588.4 L704.7,568.0 L696.2,586.5 L647.1,609.6Z" fill="#008ad6"/>
<path d="M608.3,600.0 L656.7,588.4 L647.1,609.6 L599.3,621.4Z" fill="#008ad6"/>
<path d="M559.7,627.0 L608.3,600.0 L599.3,621.4 L552.4,634.7Z" fill="#0086d8"/>
<path d="M505.4,661.2 L559.7,627.0 L552.4,634.7 L495.8,670.8Z" fill="#007ade"/>
<path d="M459.6,675.6 L505.4,661.2 L495.8,670.8 L454.8,685.2Z" fill="#007ade"/>
<path d="M413.6,699.5 L459.6,675.6 L454.8,685.2 L404.3,695.3Z" fill="#0072e3"/>
<path d="M1102.0,292.5 L1153.1,241.4 L1142.5,282.9 L1096.2,323.4Z" fill="#7bc06e"/>
<path d="M1056.7,318.6 L1102.0,292.5 L1096.2,323.4 L1048.0,349.4Z" fill="#4ec078"/>
<path d="M1005.9,340.7 L1056.7,318.6 L1048.0,349.4 L999.8,377.4Z" fill="#29c07e"/>
<path d="M957.9,377.7 L1005.9,340.7 L999.8,377.4 L951.5,406.3Z" fill="#00be91"/>
<path d="M910.7,424.9 L957.9,377.7 L951.5,406.3 L899.4,453.0Z" fill="#00b6aa"/>
<path d="M861.6,447.2 L910.7,424.9 L899.4,453.0 L849.7,486.6Z" fill="#00b4b0"/>
<path d="M814.0,477.3 L861.6,447.2 L849.7,486.6 L802.8,495.0Z" fill="#00adc0"/>
<path d="M763.7,506.0 L814.0,477.3 L802.8,495.0 L748.1,551.9Z" fill="#00abc4"/>
<path d="M715.1,544.0 L763.7,506.0 L748.1,551.9 L704.7,568.0Z" fill="#009ed2"/>
<path d="M668.7,565.6 L715.1,544.0 L704.7,568.0 L656.7,588.4Z" fill="#009ad4"/>
<path d="M618.7,598.6 L668.7,565.6 L656.7,588.4 L608.3,600.0Z" fill="#008fd6"/>
<path d="M570.0,624.4 L618.7,598.6 L608.3,600.0 L559.7,627.0Z" fill="#0086d8"/>
<path d="M521.3,646.1 L570.0,624.4 L559.7,627.0 L505.4,661.2Z" fill="#0082da"/>
<path d="M470.6,661.2 L521.3,646.1 L505.4,661.2 L459.6,675.6Z" fill="#0082da"/>
<path d="M423.0,703.7 L470.6,661.2 L459.6,675.6 L413.6,699.5Z" fill="#0072e3"/>
<path d="M1113.8,245.6 L1162.5,201.7 L1153.1,241.4 L1102.0,292.5Z" fill="#cebd55"/>
<path d="M1065.1,279.0 L1113.8,245.6 L1102.0,292.5 L1056.7,318.6Z" fill="#a9bf61"/>
<path d="M1016.5,310.1 L1065.1,279.0 L1056.7,318.6 L1005.9,340.7Z" fill="#8cc06a"/>
<path d="M967.8,348.8 L1016.5,310.1 L1005.9,340.7 L957.9,377.7Z" fill="#4ec078"/>
<path d="M919.1,391.3 L967.8,348.8 L957.9,377.7 L910.7,424.9Z" fill="#00be91"/>
<path d="M870.4,424.3 L919.1,391.3 L910.7,424.9 L861.6,447.2Z" fill="#00ba9e"/>
<path d="M821.7,457.8 L870.4,424.3 L861.6,447.2 L814.0,477.3Z" fill="#00b4b0"/>
<path d="M773.1,492.0 L821.7,457.8 L814.0,477.3 L763.7,506.0Z" fill="#00b0bb"/>
<path d="M724.4,528.0 L773.1,492.0 L763.7,506.0 L715.1,544.0Z" fill="#00a8c9"/>
<path d="M675.7,559.7 L724.4,528.0 L715.1,544.0 L668.7,565.6Z" fill="#00a2d0"/>
<path d="M627.0,596.3 L675.7,559.7 L668.7,565.6 L618.7,598.6Z" fill="#0095d5"/>
<path d="M578.3,625.0 L627.0,596.3 L618.7,598.6 L570.0,624.4Z" fill="#008ad6"/>
<path d="M529.7,649.7 L578.3,625.0 L570.0,624.4 L521.3,646.1Z" fill="#0082da"/>
<path d="M480.0,671.9 L529.7,649.7 L521.3,646.1 L470.6,661.2Z" fill="#007edc"/>
<path d="M432.3,707.8 L480.0,671.9 L470.6,661.2 L423.0,703.7Z" fill="#0072e3"/>
<path d="M1123.2,200.8 L1171.8,161.3 L1162.5,201.7 L1113.8,245.6Z" fill="#ffbc35"/>
<path d="M1074.5,240.1 L1123.2,200.8 L1113.8,245.6 L1065.1,279.0Z" fill="#efbb48"/>
<path d="M1025.8,279.1 L1074.5,240.1 L1065.1,279.0 L1016.5,310.1Z" fill="#c3be59"/>
<path d="M977.1,317.2 L1025.8,279.1 L1016.5,310.1 L967.8,348.8Z" fill="#9bc065"/>
<path d="M928.4,353.5 L977.1,317.2 L967.8,348.8 L919.1,391.3Z" fill="#67c073"/>
<path d="M879.8,402.9 L928.4,353.5 L919.1,391.3 L870.4,424.3Z" fill="#00bf8a"/>
<path d="M831.1,437.9 L879.8,402.9 L870.4,424.3 L821.7,457.8Z" fill="#00ba9e"/>
<path d="M782.4,477.4 L831.1,437.9 L821.7,457.8 L773.1,492.0Z" fill="#00b4b0"/>
<path d="M733.7,518.7 L782.4,477.4 L773.1,492.0 L724.4,528.0Z" fill="#00adc0"/>
<path d="M685.0,553.2 L733.7,518.7 L724.4,528.0 L675.7,559.7Z" fill="#00a5cc"/>
<path d="M636.4,591.5 L685.0,553.2 L675.7,559.7 L627.0,596.3Z" fill="#009ad4"/>
<path d="M587.7,623.3 L636.4,591.5 L627.0,596.3 L578.3,625.0Z" fill="#008fd6"/>
<path d="M539.0,647.3 L587.7,623.3 L578.3,625.0 L529.7,649.7Z" fill="#0086d8"/>
<path d="M490.3,674.9 L539.0,647.3 L529.7,649.7 L480.0,671.9Z" fill="#007edc"/>
<path d="M441.6,712.0 L490.3,674.9 L480.0,671.9 L432.3,707.8Z" fill="#0072e3"/>
<path d="M1132.5,164.8 L1181.2,123.9 L1171.8,161.3 L1123.2,200.8Z" fill="#ffd400"/>
<path d="M1083.8,207.9 L1132.5,164.8 L1123.2,200.8 L1074.5,240.1Z" fill="#ffc02a"/>
<path d="M1035.1,248.6 L1083.8,207.9 L1074.5,240.1 L1025.8,279.1Z" fill="#f9bb43"/>
<path d="M986.4,292.2 L1035.1,248.6 L1025.8,279.1 L977.1,317.2Z" fill="#cebd55"/>
<path d="M937.1,323.3 L986.4,292.2 L977.1,317.2 L928.4,353.5Z" fill="#b6be5d"/>
<path d="M890.8,392.3 L937.1,323.3 L928.4,353.5 L879.8,402.9Z" fill="#29c07e"/>
<path d="M840.7,417.8 L890.8,392.3 L879.8,402.9 L831.1,437.9Z" fill="#00bf8a"/>
<path d="M793.6,462.1 L840.7,417.8 L831.1,437.9 L782.4,477.4Z" fill="#00b8a4"/>
<path d="M743.5,512.2 L793.6,462.1 L782.4,477.4 L733.7,518.7Z" fill="#00b0bb"/>
<path d="M695.2,545.0 L743.5,512.2 L733.7,518.7 L685.0,553.2Z" fill="#00a8c9"/>
<path d="M646.2,582.8 L695.2,545.0 L685.0,553.2 L636.4,591.5Z" fill="#009ed2"/>
<path d="M595.1,617.5 L646.2,582.8 L636.4,591.5 L587.7,623.3Z" fill="#0095d5"/>
<path d="M545.0,644.5 L595.1,617.5 L587.7,623.3 L539.0,647.3Z" fill="#008ad6"/>
<path d="M502.0,669.7 L545.0,644.5 L539.0,647.3 L490.3,674.9Z" fill="#0082da"/>
<path d="M451.0,716.2 L502.0,669.7 L490.3,674.9 L441.6,712.0Z" fill="#0072e3"/>
<path d="M1142.1,141.1 L1190.7,99.6 L1181.2,123.9 L1132.5,164.8Z" fill="#fbe500"/>
<path d="M1092.9,187.4 L1142.1,141.1 L1132.5,164.8 L1083.8,207.9Z" fill="#ffcf00"/>
<path d="M1046.2,224.4 L1092.9,187.4 L1083.8,207.9 L1035.1,248.6Z" fill="#ffc02a"/>
<path d="M997.0,280.3 L1046.2,224.4 L1035.1,248.6 L986.4,292.2Z" fill="#e5bc4d"/>
<path d="M945.8,320.8 L997.0,280.3 L986.4,292.2 L937.1,323.3Z" fill="#b6be5d"/>
<path d="M898.5,389.8 L945.8,320.8 L937.1,323.3 L890.8,392.3Z" fill="#4ec078"/>
<path d="M848.4,424.6 L898.5,389.8 L890.8,392.3 L840.7,417.8Z" fill="#00bf8a"/>
<path d="M802.3,466.9 L848.4,424.6 L840.7,417.8 L793.6,462.1Z" fill="#00b8a4"/>
<path d="M752.2,516.1 L802.3,466.9 L793.6,462.1 L743.5,512.2Z" fill="#00b0bb"/>
<path d="M703.7,551.9 L752.2,516.1 L743.5,512.2 L695.2,545.0Z" fill="#00a8c9"/>
<path d="M654.9,588.6 L703.7,551.9 L695.2,545.0 L646.2,582.8Z" fill="#009ed2"/>
<path d="M606.3,623.3 L654.9,588.6 L646.2,582.8 L595.1,617.5Z" fill="#0095d5"/>
<path d="M555.6,651.3 L606.3,623.3 L595.1,617.5 L545.0,644.5Z" fill="#008ad6"/>
<path d="M509.8,675.8 L555.6,651.3 L545.0,644.5 L502.0,669.7Z" fill="#0082da"/>
<path d="M460.3,720.4 L509.8,675.8 L502.0,669.7 L451.0,716.2Z" fill="#0072e3"/>
<path d="M1149.8,145.9 L1200.9,111.2 L1190.7,99.6 L1142.1,141.1Z" fill="#fbe500"/>
<path d="M1101.6,219.2 L1149.8,145.9 L1142.1,141.1 L1092.9,187.4Z" fill="#ffc02a"/>
<path d="M1053.9,257.2 L1101.6,219.2 L1092.9,187.4 L1046.2,224.4Z" fill="#f9bb43"/>
<path d="M1005.7,293.8 L1053.9,257.2 L1046.2,224.4 L997.0,280.3Z" fill="#dabc51"/>
<path d="M954.5,321.4 L1005.7,293.8 L997.0,280.3 L945.8,320.8Z" fill="#c3be59"/>
<path d="M906.3,388.9 L954.5,321.4 L945.8,320.8 L898.5,389.8Z" fill="#4ec078"/>
<path d="M858.0,441.0 L906.3,388.9 L898.5,389.8 L848.4,424.6Z" fill="#00bc98"/>
<path d="M811.0,473.7 L858.0,441.0 L848.4,424.6 L802.3,466.9Z" fill="#00b8a4"/>
<path d="M760.8,521.9 L811.0,473.7 L802.3,466.9 L752.2,516.1Z" fill="#00b0bb"/>
<path d="M712.6,558.5 L760.8,521.9 L752.2,516.1 L703.7,551.9Z" fill="#00a8c9"/>
<path d="M664.4,596.3 L712.6,558.5 L703.7,551.9 L654.9,588.6Z" fill="#009ed2"/>
<path d="M616.3,635.8 L664.4,596.3 L654.9,588.6 L606.3,623.3Z" fill="#008fd6"/>
<path d="M567.0,658.9 L616.3,635.8 L606.3,623.3 L555.6,651.3Z" fill="#0086d8"/>
<path d="M518.6,689.0 L567.0,658.9 L555.6,651.3 L509.8,675.8Z" fill="#007edc"/>
<path d="M469.6,724.5 L518.6,689.0 L509.8,675.8 L460.3,720.4Z" fill="#0072e3"/>
<path d="M1159.4,176.8 L1208.6,143.0 L1200.9,111.2 L1149.8,145.9Z" fill="#ffd400"/>
<path d="M1113.3,255.8 L1159.4,176.8 L1149.8,145.9 L1101.6,219.2Z" fill="#efbb48"/>
<path d="M1064.1,287.6 L1113.3,255.8 L1101.6,219.2 L1053.9,257.2Z" fill="#cebd55"/>
<path d="M1014.4,320.4 L1064.1,287.6 L1053.9,257.2 L1005.7,293.8Z" fill="#b6be5d"/>
<path d="M967.1,361.8 L1014.4,320.4 L1005.7,293.8 L954.5,321.4Z" fill="#7bc06e"/>
<path d="M918.0,433.1 L967.1,361.8 L954.5,321.4 L906.3,388.9Z" fill="#00bc98"/>
<path d="M866.7,458.3 L918.0,433.1 L906.3,388.9 L858.0,441.0Z" fill="#00ba9e"/>
<path d="M820.6,494.9 L866.7,458.3 L858.0,441.0 L811.0,473.7Z" fill="#00b4b0"/>
<path d="M772.4,548.9 L820.6,494.9 L811.0,473.7 L760.8,521.9Z" fill="#00a8c9"/>
<path d="M723.4,585.7 L772.4,548.9 L760.8,521.9 L712.6,558.5Z" fill="#009ed2"/>
<path d="M674.2,612.7 L723.4,585.7 L712.6,558.5 L664.4,596.3Z" fill="#0095d5"/>
<path d="M626.0,644.5 L674.2,612.7 L664.4,596.3 L616.3,635.8Z" fill="#008ad6"/>
<path d="M575.2,673.1 L626.0,644.5 L616.3,635.8 L567.0,658.9Z" fill="#0082da"/>
<path d="M527.3,691.4 L575.2,673.1 L567.0,658.9 L518.6,689.0Z" fill="#007edc"/>
<path d="M479.0,728.7 L527.3,691.4 L518.6,689.0 L469.6,724.5Z" fill="#0072e3"/>
<path d="M1169.1,232.7 L1217.3,198.0 L1208.6,143.0 L1159.4,176.8Z" fill="#f9bb43"/>
<path d="M1121.0,315.6 L1169.1,232.7 L1159.4,176.8 L1113.3,255.8Z" fill="#9bc065"/>
<path d="M1073.2,340.6 L1121.0,315.6 L1113.3,255.8 L1064.1,287.6Z" fill="#7bc06e"/>
<path d="M1025.0,368.6 L1073.2,340.6 L1064.1,287.6 L1014.4,320.4Z" fill="#67c073"/>
<path d="M975.8,398.5 L1025.0,368.6 L1014.4,320.4 L967.1,361.8Z" fill="#00c084"/>
<path d="M927.7,460.2 L975.8,398.5 L967.1,361.8 L918.0,433.1Z" fill="#00b8a4"/>
<path d="M879.5,506.4 L927.7,460.2 L918.0,433.1 L866.7,458.3Z" fill="#00adc0"/>
<path d="M830.3,537.3 L879.5,506.4 L866.7,458.3 L820.6,494.9Z" fill="#00a8c9"/>
<path d="M783.0,580.6 L830.3,537.3 L820.6,494.9 L772.4,548.9Z" fill="#009ed2"/>
<path d="M732.4,594.8 L783.0,580.6 L772.4,548.9 L723.4,585.7Z" fill="#009ad4"/>
<path d="M683.8,634.9 L732.4,594.8 L723.4,585.7 L674.2,612.7Z" fill="#008ad6"/>
<path d="M634.6,671.5 L683.8,634.9 L674.2,612.7 L626.0,644.5Z" fill="#007edc"/>
<path d="M586.0,683.6 L634.6,671.5 L626.0,644.5 L575.2,673.1Z" fill="#007edc"/>
<path d="M536.9,705.3 L586.0,683.6 L575.2,673.1 L527.3,691.4Z" fill="#007ade"/>
<path d="M488.3,732.9 L536.9,705.3 L527.3,691.4 L479.0,728.7Z" fill="#0072e3"/>
<path d="M1178.9,315.6 L1227.8,284.3 L1217.3,198.0 L1169.1,232.7Z" fill="#8cc06a"/>
<path d="M1131.1,378.2 L1178.9,315.6 L1169.1,232.7 L1121.0,315.6Z" fill="#00bf8a"/>
<path d="M1082.9,401.4 L1131.1,378.2 L1121.0,315.6 L1073.2,340.6Z" fill="#00be91"/>
<path d="M1033.7,436.1 L1082.9,401.4 L1073.2,340.6 L1025.0,368.6Z" fill="#00b8a4"/>
<path d="M985.6,472.7 L1033.7,436.1 L1025.0,368.6 L975.8,398.5Z" fill="#00b2b6"/>
<path d="M937.4,518.6 L985.6,472.7 L975.8,398.5 L927.7,460.2Z" fill="#00a8c9"/>
<path d="M888.1,547.0 L937.4,518.6 L927.7,460.2 L879.5,506.4Z" fill="#00a2d0"/>
<path d="M840.9,581.6 L888.1,547.0 L879.5,506.4 L830.3,537.3Z" fill="#0095d5"/>
<path d="M791.7,612.4 L840.9,581.6 L830.3,537.3 L783.0,580.6Z" fill="#008ad6"/>
<path d="M741.7,640.1 L791.7,612.4 L783.0,580.6 L732.4,594.8Z" fill="#0082da"/>
<path d="M693.5,668.6 L741.7,640.1 L732.4,594.8 L683.8,634.9Z" fill="#007edc"/>
<path d="M644.3,690.8 L693.5,668.6 L683.8,634.9 L634.6,671.5Z" fill="#0076e0"/>
<path d="M594.9,702.5 L644.3,690.8 L634.6,671.5 L586.0,683.6Z" fill="#007ade"/>
<path d="M547.1,715.5 L594.9,702.5 L586.0,683.6 L536.9,705.3Z" fill="#0076e0"/>
<path d="M497.6,737.1 L547.1,715.5 L536.9,705.3 L488.3,732.9Z" fill="#0072e3"/>
<path d="M1189.3,379.9 L1235.6,352.9 L1227.8,284.3 L1178.9,315.6Z" fill="#00be91"/>
<path d="M1140.7,436.1 L1189.3,379.9 L1178.9,315.6 L1131.1,378.2Z" fill="#00b2b6"/>
<path d="M1091.5,461.2 L1140.7,436.1 L1131.1,378.2 L1082.9,401.4Z" fill="#00b0bb"/>
<path d="M1042.8,493.4 L1091.5,461.2 L1082.9,401.4 L1033.7,436.1Z" fill="#00a8c9"/>
<path d="M994.0,528.3 L1042.8,493.4 L1033.7,436.1 L985.6,472.7Z" fill="#00a2d0"/>
<path d="M945.8,565.6 L994.0,528.3 L985.6,472.7 L937.4,518.6Z" fill="#0095d5"/>
<path d="M895.9,598.0 L945.8,565.6 L937.4,518.6 L888.1,547.0Z" fill="#0086d8"/>
<path d="M849.6,618.2 L895.9,598.0 L888.1,547.0 L840.9,581.6Z" fill="#0082da"/>
<path d="M801.4,647.2 L849.6,618.2 L840.9,581.6 L791.7,612.4Z" fill="#007edc"/>
<path d="M751.2,676.1 L801.4,647.2 L791.7,612.4 L741.7,640.1Z" fill="#0076e0"/>
<path d="M703.1,689.8 L751.2,676.1 L741.7,640.1 L693.5,668.6Z" fill="#0072e3"/>
<path d="M653.9,710.1 L703.1,689.8 L693.5,668.6 L644.3,690.8Z" fill="#0072e3"/>
<path d="M603.4,716.1 L653.9,710.1 L644.3,690.8 L594.9,702.5Z" fill="#0072e3"/>
<path d="M555.9,719.1 L603.4,716.1 L594.9,702.5 L547.1,715.5Z" fill="#007ade"/>
<path d="M507.0,741.2 L555.9,719.1 L547.1,715.5 L497.6,737.1Z" fill="#0072e3"/>
<path d="M1197.8,429.9 L1246.2,399.2 L1235.6,352.9 L1189.3,379.9Z" fill="#00b2b6"/>
<path d="M1149.1,477.0 L1197.8,429.9 L1189.3,379.9 L1140.7,436.1Z" fill="#00a8c9"/>
<path d="M1098.8,506.6 L1149.1,477.0 L1140.7,436.1 L1091.5,461.2Z" fill="#00a2d0"/>
<path d="M1048.2,530.7 L1098.8,506.6 L1091.5,461.2 L1042.8,493.4Z" fill="#009ad4"/>
<path d="M1001.2,560.8 L1048.2,530.7 L1042.8,493.4 L994.0,528.3Z" fill="#008fd6"/>
<path d="M950.7,588.5 L1001.2,560.8 L994.0,528.3 L945.8,565.6Z" fill="#008ad6"/>
<path d="M904.5,627.9 L950.7,588.5 L945.8,565.6 L895.9,598.0Z" fill="#007ade"/>
<path d="M855.4,649.1 L904.5,627.9 L895.9,598.0 L849.6,618.2Z" fill="#0076e0"/>
<path d="M808.1,679.0 L855.4,649.1 L849.6,618.2 L801.4,647.2Z" fill="#006de4"/>
<path d="M759.9,703.1 L808.1,679.0 L801.4,647.2 L751.2,676.1Z" fill="#0068e5"/>
<path d="M712.5,719.4 L759.9,703.1 L751.2,676.1 L703.1,689.8Z" fill="#0063e5"/>
<path d="M664.4,730.2 L712.5,719.4 L703.1,689.8 L653.9,710.1Z" fill="#0068e5"/>
<path d="M609.0,724.2 L664.4,730.2 L653.9,710.1 L603.4,716.1Z" fill="#0072e3"/>
<path d="M565.4,727.5 L609.0,724.2 L603.4,716.1 L555.9,719.1Z" fill="#0076e0"/>
<path d="M516.3,745.4 L565.4,727.5 L555.9,719.1 L507.0,741.2Z" fill="#0072e3"/>
<path d="M1207.2,471.7 L1255.8,437.0 L1246.2,399.2 L1197.8,429.9Z" fill="#00a5cc"/>
<path d="M1158.5,522.2 L1207.2,471.7 L1197.8,429.9 L1149.1,477.0Z" fill="#0095d5"/>
<path d="M1110.8,546.5 L1158.5,522.2 L1149.1,477.0 L1098.8,506.6Z" fill="#008ad6"/>
<path d="M1062.1,571.1 L1110.8,546.5 L1098.8,506.6 L1048.2,530.7Z" fill="#0086d8"/>
<path d="M1013.4,595.8 L1062.1,571.1 L1048.2,530.7 L1001.2,560.8Z" fill="#0082da"/>
<path d="M963.8,619.4 L1013.4,595.8 L1001.2,560.8 L950.7,588.5Z" fill="#007ade"/>
<path d="M915.1,649.5 L963.8,619.4 L950.7,588.5 L904.5,627.9Z" fill="#0072e3"/>
<path d="M866.4,673.3 L915.1,649.5 L904.5,627.9 L855.4,649.1Z" fill="#006de4"/>
<path d="M817.7,697.1 L866.4,673.3 L855.4,649.1 L808.1,679.0Z" fill="#0063e5"/>
<path d="M769.0,713.9 L817.7,697.1 L808.1,679.0 L759.9,703.1Z" fill="#0063e5"/>
<path d="M714.9,727.8 L769.0,713.9 L759.9,703.1 L712.5,719.4Z" fill="#0063e5"/>
<path d="M668.0,738.6 L714.9,727.8 L712.5,719.4 L664.4,730.2Z" fill="#0063e5"/>
<path d="M621.0,748.3 L668.0,738.6 L664.4,730.2 L609.0,724.2Z" fill="#0063e5"/>
<path d="M574.8,739.6 L621.0,748.3 L609.0,724.2 L565.4,727.5Z" fill="#0072e3"/>
<path d="M525.6,749.6 L574.8,739.6 L565.4,727.5 L516.3,745.4Z" fill="#0072e3"/>
<path d="M1216.5,512.8 L1265.2,470.8 L1255.8,437.0 L1207.2,471.7Z" fill="#0095d5"/>
<path d="M1169.8,554.5 L1216.5,512.8 L1207.2,471.7 L1158.5,522.2Z" fill="#0082da"/>
<path d="M1122.1,586.3 L1169.8,554.5 L1158.5,522.2 L1110.8,546.5Z" fill="#007ade"/>
<path d="M1073.4,610.9 L1122.1,586.3 L1110.8,546.5 L1062.1,571.1Z" fill="#0076e0"/>
<path d="M1024.8,635.5 L1073.4,610.9 L1062.1,571.1 L1013.4,595.8Z" fill="#006de4"/>
<path d="M973.1,660.3 L1024.8,635.5 L1013.4,595.8 L963.8,619.4Z" fill="#0068e5"/>
<path d="M924.4,695.6 L973.1,660.3 L963.8,619.4 L915.1,649.5Z" fill="#0052d8"/>
<path d="M875.7,725.3 L924.4,695.6 L915.1,649.5 L866.4,673.3Z" fill="#2442be"/>
<path d="M827.0,747.7 L875.7,725.3 L866.4,673.3 L817.7,697.1Z" fill="#2e3ab1"/>
<path d="M778.4,756.5 L827.0,747.7 L817.7,697.1 L769.0,713.9Z" fill="#2e3ab1"/>
<path d="M729.7,755.6 L778.4,756.5 L769.0,713.9 L714.9,727.8Z" fill="#0749cb"/>
<path d="M681.0,759.1 L729.7,755.6 L714.9,727.8 L668.0,738.6Z" fill="#0052d8"/>
<path d="M632.3,747.8 L681.0,759.1 L668.0,738.6 L621.0,748.3Z" fill="#0068e5"/>
<path d="M584.4,743.2 L632.3,747.8 L621.0,748.3 L574.8,739.6Z" fill="#0072e3"/>
<path d="M535.0,753.8 L584.4,743.2 L574.8,739.6 L525.6,749.6Z" fill="#0072e3"/>
<path d="M1227.8,531.1 L1275.5,495.8 L1265.2,470.8 L1216.5,512.8Z" fill="#008ad6"/>
<path d="M1180.1,578.8 L1227.8,531.1 L1216.5,512.8 L1169.8,554.5Z" fill="#007ade"/>
<path d="M1136.7,608.9 L1180.1,578.8 L1169.8,554.5 L1122.1,586.3Z" fill="#0072e3"/>
<path d="M1093.2,627.0 L1136.7,608.9 L1122.1,586.3 L1073.4,610.9Z" fill="#006de4"/>
<path d="M1042.5,653.0 L1093.2,627.0 L1073.4,610.9 L1024.8,635.5Z" fill="#0068e5"/>
<path d="M989.9,692.0 L1042.5,653.0 L1024.8,635.5 L973.1,660.3Z" fill="#0749cb"/>
<path d="M936.8,723.2 L989.9,692.0 L973.1,660.3 L924.4,695.6Z" fill="#2e3ab1"/>
<path d="M893.1,754.5 L936.8,723.2 L924.4,695.6 L875.7,725.3Z" fill="#352d97"/>
<path d="M840.0,779.4 L893.1,754.5 L875.7,725.3 L827.0,747.7Z" fill="#36268b"/>
<path d="M793.2,787.2 L840.0,779.4 L827.0,747.7 L778.4,756.5Z" fill="#36268b"/>
<path d="M743.2,785.7 L793.2,787.2 L778.4,756.5 L729.7,755.6Z" fill="#3333a4"/>
<path d="M698.3,782.0 L743.2,785.7 L729.7,755.6 L681.0,759.1Z" fill="#2442be"/>
<path d="M641.7,765.0 L698.3,782.0 L681.0,759.1 L632.3,747.8Z" fill="#005be2"/>
<path d="M591.7,751.6 L641.7,765.0 L632.3,747.8 L584.4,743.2Z" fill="#0072e3"/>
<path d="M544.3,757.9 L591.7,751.6 L584.4,743.2 L535.0,753.8Z" fill="#0072e3"/>
<path d="M1238.2,542.4 L1285.8,507.7 L1275.5,495.8 L1227.8,531.1Z" fill="#0086d8"/>
<path d="M1194.6,571.3 L1238.2,542.4 L1227.8,531.1 L1180.1,578.8Z" fill="#007edc"/>
<path d="M1142.5,597.3 L1194.6,571.3 L1180.1,578.8 L1136.7,608.9Z" fill="#007ade"/>
<path d="M1097.3,617.5 L1142.5,597.3 L1136.7,608.9 L1093.2,627.0Z" fill="#0076e0"/>
<path d="M1048.3,643.5 L1097.3,617.5 L1093.2,627.0 L1042.5,653.0Z" fill="#006de4"/>
<path d="M997.8,684.5 L1048.3,643.5 L1042.5,653.0 L989.9,692.0Z" fill="#005be2"/>
<path d="M947.3,710.5 L997.8,684.5 L989.9,692.0 L936.8,723.2Z" fill="#0749cb"/>
<path d="M899.8,738.5 L947.3,710.5 L936.8,723.2 L893.1,754.5Z" fill="#2e3ab1"/>
<path d="M846.8,756.5 L899.8,738.5 L893.1,754.5 L840.0,779.4Z" fill="#2e3ab1"/>
<path d="M798.8,772.5 L846.8,756.5 L840.0,779.4 L793.2,787.2Z" fill="#3333a4"/>
<path d="M753.5,774.8 L798.8,772.5 L793.2,787.2 L743.2,785.7Z" fill="#2442be"/>
<path d="M701.7,777.2 L753.5,774.8 L743.2,785.7 L698.3,782.0Z" fill="#0749cb"/>
<path d="M651.0,771.1 L701.7,777.2 L698.3,782.0 L641.7,765.0Z" fill="#005be2"/>
<path d="M605.5,752.8 L651.0,771.1 L641.7,765.0 L591.7,751.6Z" fill="#0072e3"/>
<path d="M553.6,762.1 L605.5,752.8 L591.7,751.6 L544.3,757.9Z" fill="#0072e3"/>
<path d="M1249.1,537.1 L1295.4,502.3 L1285.8,507.7 L1238.2,542.4Z" fill="#008fd6"/>
<path d="M1201.9,555.3 L1249.1,537.1 L1238.2,542.4 L1194.6,571.3Z" fill="#008ad6"/>
<path d="M1151.2,582.8 L1201.9,555.3 L1194.6,571.3 L1142.5,597.3Z" fill="#0082da"/>
<path d="M1103.4,604.6 L1151.2,582.8 L1142.5,597.3 L1097.3,617.5Z" fill="#007edc"/>
<path d="M1055.6,630.6 L1103.4,604.6 L1097.3,617.5 L1048.3,643.5Z" fill="#0076e0"/>
<path d="M1007.4,666.4 L1055.6,630.6 L1048.3,643.5 L997.8,684.5Z" fill="#006de4"/>
<path d="M957.5,692.9 L1007.4,666.4 L997.8,684.5 L947.3,710.5Z" fill="#0063e5"/>
<path d="M906.3,717.5 L957.5,692.9 L947.3,710.5 L899.8,738.5Z" fill="#0052d8"/>
<path d="M854.9,733.5 L906.3,717.5 L899.8,738.5 L846.8,756.5Z" fill="#0052d8"/>
<path d="M805.7,755.5 L854.9,733.5 L846.8,756.5 L798.8,772.5Z" fill="#0749cb"/>
<path d="M761.9,759.1 L805.7,755.5 L798.8,772.5 L753.5,774.8Z" fill="#0052d8"/>
<path d="M713.7,768.7 L761.9,759.1 L753.5,774.8 L701.7,777.2Z" fill="#0052d8"/>
<path d="M659.6,778.4 L713.7,768.7 L701.7,777.2 L651.0,771.1Z" fill="#005be2"/>
<path d="M611.6,779.2 L659.6,778.4 L651.0,771.1 L605.5,752.8Z" fill="#0063e5"/>
<path d="M563.0,766.3 L611.6,779.2 L605.5,752.8 L553.6,762.1Z" fill="#0072e3"/>
<path d="M1257.8,512.0 L1302.2,482.1 L1295.4,502.3 L1249.1,537.1Z" fill="#009ed2"/>
<path d="M1209.6,543.8 L1257.8,512.0 L1249.1,537.1 L1201.9,555.3Z" fill="#0095d5"/>
<path d="M1159.9,558.2 L1209.6,543.8 L1201.9,555.3 L1151.2,582.8Z" fill="#0095d5"/>
<path d="M1112.1,590.1 L1159.9,558.2 L1151.2,582.8 L1103.4,604.6Z" fill="#0086d8"/>
<path d="M1062.8,613.3 L1112.1,590.1 L1103.4,604.6 L1055.6,630.6Z" fill="#0082da"/>
<path d="M1014.6,643.5 L1062.8,613.3 L1055.6,630.6 L1007.4,666.4Z" fill="#007ade"/>
<path d="M966.5,667.6 L1014.6,643.5 L1007.4,666.4 L957.5,692.9Z" fill="#0072e3"/>
<path d="M913.3,696.5 L966.5,667.6 L957.5,692.9 L906.3,717.5Z" fill="#006de4"/>
<path d="M864.3,713.4 L913.3,696.5 L906.3,717.5 L854.9,733.5Z" fill="#0068e5"/>
<path d="M814.3,737.5 L864.3,713.4 L854.9,733.5 L805.7,755.5Z" fill="#0063e5"/>
<path d="M773.9,733.8 L814.3,737.5 L805.7,755.5 L761.9,759.1Z" fill="#006de4"/>
<path d="M723.4,748.3 L773.9,733.8 L761.9,759.1 L713.7,768.7Z" fill="#0068e5"/>
<path d="M665.6,769.9 L723.4,748.3 L713.7,768.7 L659.6,778.4Z" fill="#0063e5"/>
<path d="M621.0,781.5 L665.6,769.9 L659.6,778.4 L611.6,779.2Z" fill="#0068e5"/>
<path d="M572.3,770.5 L621.0,781.5 L611.6,779.2 L563.0,766.3Z" fill="#0072e3"/>
<path d="M1266.5,494.6 L1310.8,454.1 L1302.2,482.1 L1257.8,512.0Z" fill="#00a8c9"/>
<path d="M1217.3,514.9 L1266.5,494.6 L1257.8,512.0 L1209.6,543.8Z" fill="#00a5cc"/>
<path d="M1169.1,539.9 L1217.3,514.9 L1209.6,543.8 L1159.9,558.2Z" fill="#009ed2"/>
<path d="M1122.2,555.3 L1169.1,539.9 L1159.9,558.2 L1112.1,590.1Z" fill="#009ed2"/>
<path d="M1071.5,598.8 L1122.2,555.3 L1112.1,590.1 L1062.8,613.3Z" fill="#008ad6"/>
<path d="M1020.7,618.3 L1071.5,598.8 L1062.8,613.3 L1014.6,643.5Z" fill="#0086d8"/>
<path d="M973.7,644.8 L1020.7,618.3 L1014.6,643.5 L966.5,667.6Z" fill="#0082da"/>
<path d="M919.9,674.9 L973.7,644.8 L966.5,667.6 L913.3,696.5Z" fill="#007ade"/>
<path d="M873.6,692.2 L919.9,674.9 L913.3,696.5 L864.3,713.4Z" fill="#0076e0"/>
<path d="M824.0,716.3 L873.6,692.2 L864.3,713.4 L814.3,737.5Z" fill="#0072e3"/>
<path d="M781.2,726.6 L824.0,716.3 L814.3,737.5 L773.9,733.8Z" fill="#0072e3"/>
<path d="M731.8,741.1 L781.2,726.6 L773.9,733.8 L723.4,748.3Z" fill="#0072e3"/>
<path d="M676.4,763.9 L731.8,741.1 L723.4,748.3 L665.6,769.9Z" fill="#006de4"/>
<path d="M633.1,771.2 L676.4,763.9 L665.6,769.9 L621.0,781.5Z" fill="#006de4"/>
<path d="M581.6,774.6 L633.1,771.2 L621.0,781.5 L572.3,770.5Z" fill="#0072e3"/>
<path d="M1276.1,451.8 L1322.4,418.8 L1310.8,454.1 L1266.5,494.6Z" fill="#00b4b0"/>
<path d="M1223.1,479.2 L1276.1,451.8 L1266.5,494.6 L1217.3,514.9Z" fill="#00b2b6"/>
<path d="M1178.7,497.5 L1223.1,479.2 L1217.3,514.9 L1169.1,539.9Z" fill="#00b0bb"/>
<path d="M1130.5,536.1 L1178.7,497.5 L1169.1,539.9 L1122.2,555.3Z" fill="#00a8c9"/>
<path d="M1080.2,565.5 L1130.5,536.1 L1122.2,555.3 L1071.5,598.8Z" fill="#00a2d0"/>
<path d="M1026.7,594.2 L1080.2,565.5 L1071.5,598.8 L1020.7,618.3Z" fill="#009ad4"/>
<path d="M980.9,614.7 L1026.7,594.2 L1020.7,618.3 L973.7,644.8Z" fill="#0095d5"/>
<path d="M928.2,644.2 L980.9,614.7 L973.7,644.8 L919.9,674.9Z" fill="#008ad6"/>
<path d="M882.8,670.0 L928.2,644.2 L919.9,674.9 L873.6,692.2Z" fill="#0082da"/>
<path d="M833.7,693.1 L882.8,670.0 L873.6,692.2 L824.0,716.3Z" fill="#007edc"/>
<path d="M786.0,704.9 L833.7,693.1 L824.0,716.3 L781.2,726.6Z" fill="#007edc"/>
<path d="M739.0,718.2 L786.0,704.9 L781.2,726.6 L731.8,741.1Z" fill="#007edc"/>
<path d="M682.4,754.3 L739.0,718.2 L731.8,741.1 L676.4,763.9Z" fill="#0072e3"/>
<path d="M641.5,768.7 L682.4,754.3 L676.4,763.9 L633.1,771.2Z" fill="#0072e3"/>
<path d="M591.0,778.8 L641.5,768.7 L633.1,771.2 L581.6,774.6Z" fill="#0072e3"/>
<path d="M1282.9,406.9 L1329.2,366.4 L1322.4,418.8 L1276.1,451.8Z" fill="#00bf8a"/>
<path d="M1234.6,432.9 L1282.9,406.9 L1276.1,451.8 L1223.1,479.2Z" fill="#00be91"/>
<path d="M1186.4,460.9 L1234.6,432.9 L1223.1,479.2 L1178.7,497.5Z" fill="#00ba9e"/>
<path d="M1138.2,489.8 L1186.4,460.9 L1178.7,497.5 L1130.5,536.1Z" fill="#00b6aa"/>
<path d="M1086.0,536.5 L1138.2,489.8 L1130.5,536.1 L1080.2,565.5Z" fill="#00adc0"/>
<path d="M1036.3,570.1 L1086.0,536.5 L1080.2,565.5 L1026.7,594.2Z" fill="#00a5cc"/>
<path d="M989.4,578.5 L1036.3,570.1 L1026.7,594.2 L980.9,614.7Z" fill="#00a8c9"/>
<path d="M934.7,635.4 L989.4,578.5 L980.9,614.7 L928.2,644.2Z" fill="#008fd6"/>
<path d="M891.3,651.5 L934.7,635.4 L928.2,644.2 L882.8,670.0Z" fill="#008fd6"/>
<path d="M843.3,671.9 L891.3,651.5 L882.8,670.0 L833.7,693.1Z" fill="#008ad6"/>
<path d="M795.0,683.5 L843.3,671.9 L833.7,693.1 L786.0,704.9Z" fill="#008ad6"/>
<path d="M746.4,710.5 L795.0,683.5 L786.0,704.9 L739.0,718.2Z" fill="#0086d8"/>
<path d="M692.1,744.7 L746.4,710.5 L739.0,718.2 L682.4,754.3Z" fill="#007ade"/>
<path d="M646.3,759.1 L692.1,744.7 L682.4,754.3 L641.5,768.7Z" fill="#007ade"/>
<path d="M600.3,783.0 L646.3,759.1 L641.5,768.7 L591.0,778.8Z" fill="#0072e3"/>
<path d="M1288.7,376.0 L1339.8,324.9 L1329.2,366.4 L1282.9,406.9Z" fill="#7bc06e"/>
<path d="M1243.3,402.1 L1288.7,376.0 L1282.9,406.9 L1234.6,432.9Z" fill="#4ec078"/>
<path d="M1192.6,424.2 L1243.3,402.1 L1234.6,432.9 L1186.4,460.9Z" fill="#29c07e"/>
<path d="M1144.6,461.2 L1192.6,424.2 L1186.4,460.9 L1138.2,489.8Z" fill="#00be91"/>
<path d="M1097.3,508.4 L1144.6,461.2 L1138.2,489.8 L1086.0,536.5Z" fill="#00b6aa"/>
<path d="M1048.2,530.7 L1097.3,508.4 L1086.0,536.5 L1036.3,570.1Z" fill="#00b4b0"/>
<path d="M1000.6,560.8 L1048.2,530.7 L1036.3,570.1 L989.4,578.5Z" fill="#00adc0"/>
<path d="M950.3,589.5 L1000.6,560.8 L989.4,578.5 L934.7,635.4Z" fill="#00abc4"/>
<path d="M901.7,627.5 L950.3,589.5 L934.7,635.4 L891.3,651.5Z" fill="#009ed2"/>
<path d="M855.3,649.1 L901.7,627.5 L891.3,651.5 L843.3,671.9Z" fill="#009ad4"/>
<path d="M805.4,682.1 L855.3,649.1 L843.3,671.9 L795.0,683.5Z" fill="#008fd6"/>
<path d="M756.7,707.9 L805.4,682.1 L795.0,683.5 L746.4,710.5Z" fill="#0086d8"/>
<path d="M708.0,729.6 L756.7,707.9 L746.4,710.5 L692.1,744.7Z" fill="#0082da"/>
<path d="M657.3,744.7 L708.0,729.6 L692.1,744.7 L646.3,759.1Z" fill="#0082da"/>
<path d="M609.6,787.2 L657.3,744.7 L646.3,759.1 L600.3,783.0Z" fill="#0072e3"/>
<path d="M1300.5,329.1 L1349.2,285.2 L1339.8,324.9 L1288.7,376.0Z" fill="#cebd55"/>
<path d="M1251.8,362.5 L1300.5,329.1 L1288.7,376.0 L1243.3,402.1Z" fill="#a9bf61"/>
<path d="M1203.1,393.6 L1251.8,362.5 L1243.3,402.1 L1192.6,424.2Z" fill="#8cc06a"/>
<path d="M1154.4,432.3 L1203.1,393.6 L1192.6,424.2 L1144.6,461.2Z" fill="#4ec078"/>
<path d="M1105.8,474.8 L1154.4,432.3 L1144.6,461.2 L1097.3,508.4Z" fill="#00be91"/>
<path d="M1057.1,507.8 L1105.8,474.8 L1097.3,508.4 L1048.2,530.7Z" fill="#00ba9e"/>
<path d="M1008.4,541.3 L1057.1,507.8 L1048.2,530.7 L1000.6,560.8Z" fill="#00b4b0"/>
<path d="M959.7,575.5 L1008.4,541.3 L1000.6,560.8 L950.3,589.5Z" fill="#00b0bb"/>
<path d="M911.0,611.5 L959.7,575.5 L950.3,589.5 L901.7,627.5Z" fill="#00a8c9"/>
<path d="M862.4,643.2 L911.0,611.5 L901.7,627.5 L855.3,649.1Z" fill="#00a2d0"/>
<path d="M813.7,679.8 L862.4,643.2 L855.3,649.1 L805.4,682.1Z" fill="#0095d5"/>
<path d="M765.0,708.5 L813.7,679.8 L805.4,682.1 L756.7,707.9Z" fill="#008ad6"/>
<path d="M716.3,733.2 L765.0,708.5 L756.7,707.9 L708.0,729.6Z" fill="#0082da"/>
<path d="M666.6,755.4 L716.3,733.2 L708.0,729.6 L657.3,744.7Z" fill="#007edc"/>
<path d="M619.0,791.3 L666.6,755.4 L657.3,744.7 L609.6,787.2Z" fill="#0072e3"/>
<path d="M1309.8,284.3 L1358.5,244.8 L1349.2,285.2 L1300.5,329.1Z" fill="#ffbc35"/>
<path d="M1261.1,323.6 L1309.8,284.3 L1300.5,329.1 L1251.8,362.5Z" fill="#efbb48"/>
<path d="M1212.5,362.6 L1261.1,323.6 L1251.8,362.5 L1203.1,393.6Z" fill="#c3be59"/>
<path d="M1163.8,400.7 L1212.5,362.6 L1203.1,393.6 L1154.4,432.3Z" fill="#9bc065"/>
<path d="M1115.1,437.0 L1163.8,400.7 L1154.4,432.3 L1105.8,474.8Z" fill="#67c073"/>
<path d="M1066.4,486.4 L1115.1,437.0 L1105.8,474.8 L1057.1,507.8Z" fill="#00bf8a"/>
<path d="M1017.7,521.4 L1066.4,486.4 L1057.1,507.8 L1008.4,541.3Z" fill="#00ba9e"/>
<path d="M969.1,560.9 L1017.7,521.4 L1008.4,541.3 L959.7,575.5Z" fill="#00b4b0"/>
<path d="M920.4,602.2 L969.1,560.9 L959.7,575.5 L911.0,611.5Z" fill="#00adc0"/>
<path d="M871.7,636.7 L920.4,602.2 L911.0,611.5 L862.4,643.2Z" fill="#00a5cc"/>
<path d="M823.0,675.0 L871.7,636.7 L862.4,643.2 L813.7,679.8Z" fill="#009ad4"/>
<path d="M774.3,706.8 L823.0,675.0 L813.7,679.8 L765.0,708.5Z" fill="#008fd6"/>
<path d="M725.7,730.8 L774.3,706.8 L765.0,708.5 L716.3,733.2Z" fill="#0086d8"/>
<path d="M677.0,758.4 L725.7,730.8 L716.3,733.2 L666.6,755.4Z" fill="#007edc"/>
<path d="M628.3,795.5 L677.0,758.4 L666.6,755.4 L619.0,791.3Z" fill="#0072e3"/>
<path d="M1319.2,248.3 L1367.8,207.4 L1358.5,244.8 L1309.8,284.3Z" fill="#ffd400"/>
<path d="M1270.5,291.4 L1319.2,248.3 L1309.8,284.3 L1261.1,323.6Z" fill="#ffc02a"/>
<path d="M1221.8,332.1 L1270.5,291.4 L1261.1,323.6 L1212.5,362.6Z" fill="#f9bb43"/>
<path d="M1173.1,375.7 L1221.8,332.1 L1212.5,362.6 L1163.8,400.7Z" fill="#cebd55"/>
<path d="M1123.8,406.8 L1173.1,375.7 L1163.8,400.7 L1115.1,437.0Z" fill="#b6be5d"/>
<path d="M1077.5,475.8 L1123.8,406.8 L1115.1,437.0 L1066.4,486.4Z" fill="#29c07e"/>
<path d="M1027.3,501.3 L1077.5,475.8 L1066.4,486.4 L1017.7,521.4Z" fill="#00bf8a"/>
<path d="M980.3,545.6 L1027.3,501.3 L1017.7,521.4 L969.1,560.9Z" fill="#00b8a4"/>
<path d="M930.2,595.7 L980.3,545.6 L969.1,560.9 L920.4,602.2Z" fill="#00b0bb"/>
<path d="M881.9,628.5 L930.2,595.7 L920.4,602.2 L871.7,636.7Z" fill="#00a8c9"/>
<path d="M832.9,666.3 L881.9,628.5 L871.7,636.7 L823.0,675.0Z" fill="#009ed2"/>
<path d="M781.8,701.0 L832.9,666.3 L823.0,675.0 L774.3,706.8Z" fill="#0095d5"/>
<path d="M731.6,728.0 L781.8,701.0 L774.3,706.8 L725.7,730.8Z" fill="#008ad6"/>
<path d="M688.6,753.2 L731.6,728.0 L725.7,730.8 L677.0,758.4Z" fill="#0082da"/>
<path d="M637.6,799.7 L688.6,753.2 L677.0,758.4 L628.3,795.5Z" fill="#0072e3"/>
<path d="M1328.7,224.6 L1377.3,183.1 L1367.8,207.4 L1319.2,248.3Z" fill="#fbe500"/>
<path d="M1279.5,270.9 L1328.7,224.6 L1319.2,248.3 L1270.5,291.4Z" fill="#ffcf00"/>
<path d="M1232.9,307.9 L1279.5,270.9 L1270.5,291.4 L1221.8,332.1Z" fill="#ffc02a"/>
<path d="M1183.7,363.8 L1232.9,307.9 L1221.8,332.1 L1173.1,375.7Z" fill="#e5bc4d"/>
<path d="M1132.5,404.3 L1183.7,363.8 L1173.1,375.7 L1123.8,406.8Z" fill="#b6be5d"/>
<path d="M1085.2,473.3 L1132.5,404.3 L1123.8,406.8 L1077.5,475.8Z" fill="#4ec078"/>
<path d="M1035.1,508.1 L1085.2,473.3 L1077.5,475.8 L1027.3,501.3Z" fill="#00bf8a"/>
<path d="M989.0,550.4 L1035.1,508.1 L1027.3,501.3 L980.3,545.6Z" fill="#00b8a4"/>
<path d="M938.8,599.6 L989.0,550.4 L980.3,545.6 L930.2,595.7Z" fill="#00b0bb"/>
<path d="M890.4,635.4 L938.8,599.6 L930.2,595.7 L881.9,628.5Z" fill="#00a8c9"/>
<path d="M841.6,672.1 L890.4,635.4 L881.9,628.5 L832.9,666.3Z" fill="#009ed2"/>
<path d="M793.0,706.8 L841.6,672.1 L832.9,666.3 L781.8,701.0Z" fill="#0095d5"/>
<path d="M742.2,734.8 L793.0,706.8 L781.8,701.0 L731.6,728.0Z" fill="#008ad6"/>
<path d="M696.5,759.3 L742.2,734.8 L731.6,728.0 L688.6,753.2Z" fill="#0082da"/>
<path d="M647.0,803.9 L696.5,759.3 L688.6,753.2 L637.6,799.7Z" fill="#0072e3"/>
<path d="M1336.4,229.4 L1387.6,194.7 L1377.3,183.1 L1328.7,224.6Z" fill="#fbe500"/>
<path d="M1288.2,302.7 L1336.4,229.4 L1328.7,224.6 L1279.5,270.9Z" fill="#ffc02a"/>
<path d="M1240.6,340.7 L1288.2,302.7 L1279.5,270.9 L1232.9,307.9Z" fill="#f9bb43"/>
<path d="M1192.4,377.3 L1240.6,340.7 L1232.9,307.9 L1183.7,363.8Z" fill="#dabc51"/>
<path d="M1141.1,404.9 L1192.4,377.3 L1183.7,363.8 L1132.5,404.3Z" fill="#c3be59"/>
<path d="M1092.9,472.4 L1141.1,404.9 L1132.5,404.3 L1085.2,473.3Z" fill="#4ec078"/>
<path d="M1044.7,524.5 L1092.9,472.4 L1085.2,473.3 L1035.1,508.1Z" fill="#00bc98"/>
<path d="M997.7,557.2 L1044.7,524.5 L1035.1,508.1 L989.0,550.4Z" fill="#00b8a4"/>
<path d="M947.5,605.4 L997.7,557.2 L989.0,550.4 L938.8,599.6Z" fill="#00b0bb"/>
<path d="M899.2,642.0 L947.5,605.4 L938.8,599.6 L890.4,635.4Z" fill="#00a8c9"/>
<path d="M851.0,679.8 L899.2,642.0 L890.4,635.4 L841.6,672.1Z" fill="#009ed2"/>
<path d="M803.0,719.3 L851.0,679.8 L841.6,672.1 L793.0,706.8Z" fill="#008fd6"/>
<path d="M753.7,742.4 L803.0,719.3 L793.0,706.8 L742.2,734.8Z" fill="#0086d8"/>
<path d="M705.2,772.5 L753.7,742.4 L742.2,734.8 L696.5,759.3Z" fill="#007edc"/>
<path d="M656.3,808.0 L705.2,772.5 L696.5,759.3 L647.0,803.9Z" fill="#0072e3"/>
<path d="M1346.1,260.3 L1395.3,226.5 L1387.6,194.7 L1336.4,229.4Z" fill="#ffd400"/>
<path d="M1300.0,339.3 L1346.1,260.3 L1336.4,229.4 L1288.2,302.7Z" fill="#efbb48"/>
<path d="M1250.8,371.1 L1300.0,339.3 L1288.2,302.7 L1240.6,340.7Z" fill="#cebd55"/>
<path d="M1201.1,403.9 L1250.8,371.1 L1240.6,340.7 L1192.4,377.3Z" fill="#b6be5d"/>
<path d="M1153.8,445.3 L1201.1,403.9 L1192.4,377.3 L1141.1,404.9Z" fill="#7bc06e"/>
<path d="M1104.7,516.6 L1153.8,445.3 L1141.1,404.9 L1092.9,472.4Z" fill="#00bc98"/>
<path d="M1053.4,541.8 L1104.7,516.6 L1092.9,472.4 L1044.7,524.5Z" fill="#00ba9e"/>
<path d="M1007.3,578.4 L1053.4,541.8 L1044.7,524.5 L997.7,557.2Z" fill="#00b4b0"/>
<path d="M959.1,632.4 L1007.3,578.4 L997.7,557.2 L947.5,605.4Z" fill="#00a8c9"/>
<path d="M910.0,669.2 L959.1,632.4 L947.5,605.4 L899.2,642.0Z" fill="#009ed2"/>
<path d="M860.9,696.2 L910.0,669.2 L899.2,642.0 L851.0,679.8Z" fill="#0095d5"/>
<path d="M812.6,728.0 L860.9,696.2 L851.0,679.8 L803.0,719.3Z" fill="#008ad6"/>
<path d="M761.8,756.6 L812.6,728.0 L803.0,719.3 L753.7,742.4Z" fill="#0082da"/>
<path d="M713.9,774.9 L761.8,756.6 L753.7,742.4 L705.2,772.5Z" fill="#007edc"/>
<path d="M665.6,812.2 L713.9,774.9 L705.2,772.5 L656.3,808.0Z" fill="#0072e3"/>
<path d="M1355.7,316.2 L1404.0,281.5 L1395.3,226.5 L1346.1,260.3Z" fill="#f9bb43"/>
<path d="M1307.7,399.1 L1355.7,316.2 L1346.1,260.3 L1300.0,339.3Z" fill="#9bc065"/>
<path d="M1259.9,424.1 L1307.7,399.1 L1300.0,339.3 L1250.8,371.1Z" fill="#7bc06e"/>
<path d="M1211.7,452.1 L1259.9,424.1 L1250.8,371.1 L1201.1,403.9Z" fill="#67c073"/>
<path d="M1162.5,482.0 L1211.7,452.1 L1201.1,403.9 L1153.8,445.3Z" fill="#00c084"/>
<path d="M1114.4,543.7 L1162.5,482.0 L1153.8,445.3 L1104.7,516.6Z" fill="#00b8a4"/>
<path d="M1066.1,589.9 L1114.4,543.7 L1104.7,516.6 L1053.4,541.8Z" fill="#00adc0"/>
<path d="M1016.9,620.8 L1066.1,589.9 L1053.4,541.8 L1007.3,578.4Z" fill="#00a8c9"/>
<path d="M969.7,664.1 L1016.9,620.8 L1007.3,578.4 L959.1,632.4Z" fill="#009ed2"/>
<path d="M919.1,678.3 L969.7,664.1 L959.1,632.4 L910.0,669.2Z" fill="#009ad4"/>
<path d="M870.5,718.4 L919.1,678.3 L910.0,669.2 L860.9,696.2Z" fill="#008ad6"/>
<path d="M821.3,755.0 L870.5,718.4 L860.9,696.2 L812.6,728.0Z" fill="#007edc"/>
<path d="M772.7,767.1 L821.3,755.0 L812.6,728.0 L761.8,756.6Z" fill="#007edc"/>
<path d="M723.6,788.8 L772.7,767.1 L761.8,756.6 L713.9,774.9Z" fill="#007ade"/>
<path d="M675.0,816.4 L723.6,788.8 L713.9,774.9 L665.6,812.2Z" fill="#0072e3"/>
<path d="M1365.5,399.1 L1414.5,367.8 L1404.0,281.5 L1355.7,316.2Z" fill="#8cc06a"/>
<path d="M1317.8,461.7 L1365.5,399.1 L1355.7,316.2 L1307.7,399.1Z" fill="#00bf8a"/>
<path d="M1269.5,484.9 L1317.8,461.7 L1307.7,399.1 L1259.9,424.1Z" fill="#00be91"/>
<path d="M1220.3,519.6 L1269.5,484.9 L1259.9,424.1 L1211.7,452.1Z" fill="#00b8a4"/>
<path d="M1172.2,556.2 L1220.3,519.6 L1211.7,452.1 L1162.5,482.0Z" fill="#00b2b6"/>
<path d="M1124.1,602.1 L1172.2,556.2 L1162.5,482.0 L1114.4,543.7Z" fill="#00a8c9"/>
<path d="M1074.8,630.5 L1124.1,602.1 L1114.4,543.7 L1066.1,589.9Z" fill="#00a2d0"/>
<path d="M1027.6,665.1 L1074.8,630.5 L1066.1,589.9 L1016.9,620.8Z" fill="#0095d5"/>
<path d="M978.4,695.9 L1027.6,665.1 L1016.9,620.8 L969.7,664.1Z" fill="#008ad6"/>
<path d="M928.4,723.6 L978.4,695.9 L969.7,664.1 L919.1,678.3Z" fill="#0082da"/>
<path d="M880.1,752.1 L928.4,723.6 L919.1,678.3 L870.5,718.4Z" fill="#007edc"/>
<path d="M831.0,774.3 L880.1,752.1 L870.5,718.4 L821.3,755.0Z" fill="#0076e0"/>
<path d="M781.6,786.0 L831.0,774.3 L821.3,755.0 L772.7,767.1Z" fill="#007ade"/>
<path d="M733.8,799.0 L781.6,786.0 L772.7,767.1 L723.6,788.8Z" fill="#0076e0"/>
<path d="M684.3,820.6 L733.8,799.0 L723.6,788.8 L675.0,816.4Z" fill="#0072e3"/>
<path d="M1376.0,463.4 L1422.3,436.4 L1414.5,367.8 L1365.5,399.1Z" fill="#00be91"/>
<path d="M1327.4,519.6 L1376.0,463.4 L1365.5,399.1 L1317.8,461.7Z" fill="#00b2b6"/>
<path d="M1278.2,544.7 L1327.4,519.6 L1317.8,461.7 L1269.5,484.9Z" fill="#00b0bb"/>
<path d="M1229.4,576.9 L1278.2,544.7 L1269.5,484.9 L1220.3,519.6Z" fill="#00a8c9"/>
<path d="M1180.7,611.8 L1229.4,576.9 L1220.3,519.6 L1172.2,556.2Z" fill="#00a2d0"/>
<path d="M1132.5,649.1 L1180.7,611.8 L1172.2,556.2 L1124.1,602.1Z" fill="#0095d5"/>
<path d="M1082.5,681.5 L1132.5,649.1 L1124.1,602.1 L1074.8,630.5Z" fill="#0086d8"/>
<path d="M1036.2,701.7 L1082.5,681.5 L1074.8,630.5 L1027.6,665.1Z" fill="#0082da"/>
<path d="M988.0,730.7 L1036.2,701.7 L1027.6,665.1 L978.4,695.9Z" fill="#007edc"/>
<path d="M937.9,759.6 L988.0,730.7 L978.4,695.9 L928.4,723.6Z" fill="#0076e0"/>
<path d="M889.8,773.3 L937.9,759.6 L928.4,723.6 L880.1,752.1Z" fill="#0072e3"/>
<path d="M840.6,793.6 L889.8,773.3 L880.1,752.1 L831.0,774.3Z" fill="#0072e3"/>
<path d="M790.0,799.6 L840.6,793.6 L831.0,774.3 L781.6,786.0Z" fill="#0072e3"/>
<path d="M742.6,802.6 L790.0,799.6 L781.6,786.0 L733.8,799.0Z" fill="#007ade"/>
<path d="M693.6,824.7 L742.6,802.6 L733.8,799.0 L684.3,820.6Z" fill="#0072e3"/>
<path d="M1384.5,513.4 L1432.9,482.7 L1422.3,436.4 L1376.0,463.4Z" fill="#00b2b6"/>
<path d="M1335.8,560.5 L1384.5,513.4 L1376.0,463.4 L1327.4,519.6Z" fill="#00a8c9"/>
<path d="M1285.4,590.1 L1335.8,560.5 L1327.4,519.6 L1278.2,544.7Z" fill="#00a2d0"/>
<path d="M1234.9,614.2 L1285.4,590.1 L1278.2,544.7 L1229.4,576.9Z" fill="#009ad4"/>
<path d="M1187.9,644.3 L1234.9,614.2 L1229.4,576.9 L1180.7,611.8Z" fill="#008fd6"/>
<path d="M1137.3,672.0 L1187.9,644.3 L1180.7,611.8 L1132.5,649.1Z" fill="#008ad6"/>
<path d="M1091.2,711.4 L1137.3,672.0 L1132.5,649.1 L1082.5,681.5Z" fill="#007ade"/>
<path d="M1042.0,732.6 L1091.2,711.4 L1082.5,681.5 L1036.2,701.7Z" fill="#0076e0"/>
<path d="M994.8,762.5 L1042.0,732.6 L1036.2,701.7 L988.0,730.7Z" fill="#006de4"/>
<path d="M946.5,786.6 L994.8,762.5 L988.0,730.7 L937.9,759.6Z" fill="#0068e5"/>
<path d="M899.2,802.9 L946.5,786.6 L937.9,759.6 L889.8,773.3Z" fill="#0063e5"/>
<path d="M851.0,813.7 L899.2,802.9 L889.8,773.3 L840.6,793.6Z" fill="#0068e5"/>
<path d="M795.7,807.7 L851.0,813.7 L840.6,793.6 L790.0,799.6Z" fill="#0072e3"/>
<path d="M752.1,811.0 L795.7,807.7 L790.0,799.6 L742.6,802.6Z" fill="#0076e0"/>
<path d="M703.0,828.9 L752.1,811.0 L742.6,802.6 L693.6,824.7Z" fill="#0072e3"/>
<path d="M1393.8,555.2 L1442.5,520.5 L1432.9,482.7 L1384.5,513.4Z" fill="#00a5cc"/>
<path d="M1345.1,605.7 L1393.8,555.2 L1384.5,513.4 L1335.8,560.5Z" fill="#0095d5"/>
<path d="M1297.5,630.0 L1345.1,605.7 L1335.8,560.5 L1285.4,590.1Z" fill="#008ad6"/>
<path d="M1248.8,654.6 L1297.5,630.0 L1285.4,590.1 L1234.9,614.2Z" fill="#0086d8"/>
<path d="M1200.1,679.3 L1248.8,654.6 L1234.9,614.2 L1187.9,644.3Z" fill="#0082da"/>
<path d="M1150.4,702.9 L1200.1,679.3 L1187.9,644.3 L1137.3,672.0Z" fill="#007ade"/>
<path d="M1101.7,733.0 L1150.4,702.9 L1137.3,672.0 L1091.2,711.4Z" fill="#0072e3"/>
<path d="M1053.1,756.8 L1101.7,733.0 L1091.2,711.4 L1042.0,732.6Z" fill="#006de4"/>
<path d="M1004.4,780.6 L1053.1,756.8 L1042.0,732.6 L994.8,762.5Z" fill="#0063e5"/>
<path d="M955.7,797.4 L1004.4,780.6 L994.8,762.5 L946.5,786.6Z" fill="#0063e5"/>
<path d="M901.6,811.3 L955.7,797.4 L946.5,786.6 L899.2,802.9Z" fill="#0063e5"/>
<path d="M854.7,822.1 L901.6,811.3 L899.2,802.9 L851.0,813.7Z" fill="#0063e5"/>
<path d="M807.7,831.8 L854.7,822.1 L851.0,813.7 L795.7,807.7Z" fill="#0063e5"/>
<path d="M761.5,823.1 L807.7,831.8 L795.7,807.7 L752.1,811.0Z" fill="#0072e3"/>
<path d="M712.3,833.1 L761.5,823.1 L752.1,811.0 L703.0,828.9Z" fill="#0072e3"/>
<path d="M1403.2,596.3 L1451.8,554.3 L1442.5,520.5 L1393.8,555.2Z" fill="#0095d5"/>
<path d="M1356.5,638.0 L1403.2,596.3 L1393.8,555.2 L1345.1,605.7Z" fill="#0082da"/>
<path d="M1308.8,669.8 L1356.5,638.0 L1345.1,605.7 L1297.5,630.0Z" fill="#007ade"/>
<path d="M1260.1,694.4 L1308.8,669.8 L1297.5,630.0 L1248.8,654.6Z" fill="#0076e0"/>
<path d="M1211.4,719.0 L1260.1,694.4 L1248.8,654.6 L1200.1,679.3Z" fill="#006de4"/>
<path d="M1159.8,743.8 L1211.4,719.0 L1200.1,679.3 L1150.4,702.9Z" fill="#0068e5"/>
<path d="M1111.1,779.1 L1159.8,743.8 L1150.4,702.9 L1101.7,733.0Z" fill="#0052d8"/>
<path d="M1062.4,808.8 L1111.1,779.1 L1101.7,733.0 L1053.1,756.8Z" fill="#2442be"/>
<path d="M1013.7,831.2 L1062.4,808.8 L1053.1,756.8 L1004.4,780.6Z" fill="#2e3ab1"/>
<path d="M965.0,840.0 L1013.7,831.2 L1004.4,780.6 L955.7,797.4Z" fill="#2e3ab1"/>
<path d="M916.4,839.1 L965.0,840.0 L955.7,797.4 L901.6,811.3Z" fill="#0749cb"/>
<path d="M867.7,842.6 L916.4,839.1 L901.6,811.3 L854.7,822.1Z" fill="#0052d8"/>
<path d="M819.0,831.3 L867.7,842.6 L854.7,822.1 L807.7,831.8Z" fill="#0068e5"/>
<path d="M771.1,826.7 L819.0,831.3 L807.7,831.8 L761.5,823.1Z" fill="#0072e3"/>
<path d="M721.6,837.3 L771.1,826.7 L761.5,823.1 L712.3,833.1Z" fill="#0072e3"/>
<path d="M1414.5,614.6 L1462.2,579.3 L1451.8,554.3 L1403.2,596.3Z" fill="#008ad6"/>
<path d="M1366.8,662.3 L1414.5,614.6 L1403.2,596.3 L1356.5,638.0Z" fill="#007ade"/>
<path d="M1323.4,692.4 L1366.8,662.3 L1356.5,638.0 L1308.8,669.8Z" fill="#0072e3"/>
<path d="M1279.9,710.5 L1323.4,692.4 L1308.8,669.8 L1260.1,694.4Z" fill="#006de4"/>
<path d="M1229.2,736.5 L1279.9,710.5 L1260.1,694.4 L1211.4,719.0Z" fill="#0068e5"/>
<path d="M1176.6,775.5 L1229.2,736.5 L1211.4,719.0 L1159.8,743.8Z" fill="#0749cb"/>
<path d="M1123.5,806.7 L1176.6,775.5 L1159.8,743.8 L1111.1,779.1Z" fill="#2e3ab1"/>
<path d="M1079.8,838.0 L1123.5,806.7 L1111.1,779.1 L1062.4,808.8Z" fill="#352d97"/>
<path d="M1026.7,862.9 L1079.8,838.0 L1062.4,808.8 L1013.7,831.2Z" fill="#36268b"/>
<path d="M979.9,870.7 L1026.7,862.9 L1013.7,831.2 L965.0,840.0Z" fill="#36268b"/>
<path d="M929.9,869.2 L979.9,870.7 L965.0,840.0 L916.4,839.1Z" fill="#3333a4"/>
<path d="M885.0,865.5 L929.9,869.2 L916.4,839.1 L867.7,842.6Z" fill="#2442be"/>
<path d="M828.3,848.5 L885.0,865.5 L867.7,842.6 L819.0,831.3Z" fill="#005be2"/>
<path d="M778.3,835.1 L828.3,848.5 L819.0,831.3 L771.1,826.7Z" fill="#0072e3"/>
<path d="M731.0,841.4 L778.3,835.1 L771.1,826.7 L721.6,837.3Z" fill="#0072e3"/>
<path d="M1424.8,625.9 L1472.5,591.2 L1462.2,579.3 L1414.5,614.6Z" fill="#0086d8"/>
<path d="M1381.3,654.8 L1424.8,625.9 L1414.5,614.6 L1366.8,662.3Z" fill="#007edc"/>
<path d="M1329.2,680.8 L1381.3,654.8 L1366.8,662.3 L1323.4,692.4Z" fill="#007ade"/>
<path d="M1284.0,701.0 L1329.2,680.8 L1323.4,692.4 L1279.9,710.5Z" fill="#0076e0"/>
<path d="M1235.0,727.0 L1284.0,701.0 L1279.9,710.5 L1229.2,736.5Z" fill="#006de4"/>
<path d="M1184.5,768.0 L1235.0,727.0 L1229.2,736.5 L1176.6,775.5Z" fill="#005be2"/>
<path d="M1134.0,794.0 L1184.5,768.0 L1176.6,775.5 L1123.5,806.7Z" fill="#0749cb"/>
<path d="M1086.5,822.0 L1134.0,794.0 L1123.5,806.7 L1079.8,838.0Z" fill="#2e3ab1"/>
<path d="M1033.5,840.0 L1086.5,822.0 L1079.8,838.0 L1026.7,862.9Z" fill="#2e3ab1"/>
<path d="M985.5,856.0 L1033.5,840.0 L1026.7,862.9 L979.9,870.7Z" fill="#3333a4"/>
<path d="M940.1,858.3 L985.5,856.0 L979.9,870.7 L929.9,869.2Z" fill="#2442be"/>
<path d="M888.4,860.7 L940.1,858.3 L929.9,869.2 L885.0,865.5Z" fill="#0749cb"/>
<path d="M837.7,854.6 L888.4,860.7 L885.0,865.5 L828.3,848.5Z" fill="#005be2"/>
<path d="M792.2,836.3 L837.7,854.6 L828.3,848.5 L778.3,835.1Z" fill="#0072e3"/>
<path d="M740.3,845.6 L792.2,836.3 L778.3,835.1 L731.0,841.4Z" fill="#0072e3"/>
<path d="M1435.8,620.6 L1482.1,585.8 L1472.5,591.2 L1424.8,625.9Z" fill="#008fd6"/>
<path d="M1388.6,638.8 L1435.8,620.6 L1424.8,625.9 L1381.3,654.8Z" fill="#008ad6"/>
<path d="M1337.9,666.3 L1388.6,638.8 L1381.3,654.8 L1329.2,680.8Z" fill="#0082da"/>
<path d="M1290.1,688.1 L1337.9,666.3 L1329.2,680.8 L1284.0,701.0Z" fill="#007edc"/>
<path d="M1242.3,714.1 L1290.1,688.1 L1284.0,701.0 L1235.0,727.0Z" fill="#0076e0"/>
<path d="M1194.1,749.9 L1242.3,714.1 L1235.0,727.0 L1184.5,768.0Z" fill="#006de4"/>
<path d="M1144.2,776.4 L1194.1,749.9 L1184.5,768.0 L1134.0,794.0Z" fill="#0063e5"/>
<path d="M1093.0,801.0 L1144.2,776.4 L1134.0,794.0 L1086.5,822.0Z" fill="#0052d8"/>
<path d="M1041.6,817.0 L1093.0,801.0 L1086.5,822.0 L1033.5,840.0Z" fill="#0052d8"/>
<path d="M992.4,839.0 L1041.6,817.0 L1033.5,840.0 L985.5,856.0Z" fill="#0749cb"/>
<path d="M948.6,842.6 L992.4,839.0 L985.5,856.0 L940.1,858.3Z" fill="#0052d8"/>
<path d="M900.4,852.2 L948.6,842.6 L940.1,858.3 L888.4,860.7Z" fill="#0052d8"/>
<path d="M846.2,861.9 L900.4,852.2 L888.4,860.7 L837.7,854.6Z" fill="#005be2"/>
<path d="M798.3,862.7 L846.2,861.9 L837.7,854.6 L792.2,836.3Z" fill="#0063e5"/>
<path d="M749.6,849.8 L798.3,862.7 L792.2,836.3 L740.3,845.6Z" fill="#0072e3"/>
<path d="M1444.5,595.5 L1488.8,565.6 L1482.1,585.8 L1435.8,620.6Z" fill="#009ed2"/>
<path d="M1396.2,627.3 L1444.5,595.5 L1435.8,620.6 L1388.6,638.8Z" fill="#0095d5"/>
<path d="M1346.6,641.7 L1396.2,627.3 L1388.6,638.8 L1337.9,666.3Z" fill="#0095d5"/>
<path d="M1298.8,673.6 L1346.6,641.7 L1337.9,666.3 L1290.1,688.1Z" fill="#0086d8"/>
<path d="M1249.5,696.8 L1298.8,673.6 L1290.1,688.1 L1242.3,714.1Z" fill="#0082da"/>
<path d="M1201.3,727.0 L1249.5,696.8 L1242.3,714.1 L1194.1,749.9Z" fill="#007ade"/>
<path d="M1153.2,751.1 L1201.3,727.0 L1194.1,749.9 L1144.2,776.4Z" fill="#0072e3"/>
<path d="M1100.0,780.0 L1153.2,751.1 L1144.2,776.4 L1093.0,801.0Z" fill="#006de4"/>
<path d="M1051.0,796.9 L1100.0,780.0 L1093.0,801.0 L1041.6,817.0Z" fill="#0068e5"/>
<path d="M1001.0,821.0 L1051.0,796.9 L1041.6,817.0 L992.4,839.0Z" fill="#0063e5"/>
<path d="M960.6,817.3 L1001.0,821.0 L992.4,839.0 L948.6,842.6Z" fill="#006de4"/>
<path d="M910.0,831.8 L960.6,817.3 L948.6,842.6 L900.4,852.2Z" fill="#0068e5"/>
<path d="M852.2,853.4 L910.0,831.8 L900.4,852.2 L846.2,861.9Z" fill="#0063e5"/>
<path d="M807.6,865.0 L852.2,853.4 L846.2,861.9 L798.3,862.7Z" fill="#0068e5"/>
<path d="M759.0,854.0 L807.6,865.0 L798.3,862.7 L749.6,849.8Z" fill="#0072e3"/>
<path d="M1453.1,578.1 L1497.5,537.6 L1488.8,565.6 L1444.5,595.5Z" fill="#00a8c9"/>
<path d="M1404.0,598.4 L1453.1,578.1 L1444.5,595.5 L1396.2,627.3Z" fill="#00a5cc"/>
<path d="M1355.7,623.4 L1404.0,598.4 L1396.2,627.3 L1346.6,641.7Z" fill="#009ed2"/>
<path d="M1308.9,638.8 L1355.7,623.4 L1346.6,641.7 L1298.8,673.6Z" fill="#009ed2"/>
<path d="M1258.2,682.3 L1308.9,638.8 L1298.8,673.6 L1249.5,696.8Z" fill="#008ad6"/>
<path d="M1207.4,701.8 L1258.2,682.3 L1249.5,696.8 L1201.3,727.0Z" fill="#0086d8"/>
<path d="M1160.4,728.3 L1207.4,701.8 L1201.3,727.0 L1153.2,751.1Z" fill="#0082da"/>
<path d="M1106.6,758.4 L1160.4,728.3 L1153.2,751.1 L1100.0,780.0Z" fill="#007ade"/>
<path d="M1060.3,775.7 L1106.6,758.4 L1100.0,780.0 L1051.0,796.9Z" fill="#0076e0"/>
<path d="M1010.7,799.8 L1060.3,775.7 L1051.0,796.9 L1001.0,821.0Z" fill="#0072e3"/>
<path d="M967.8,810.1 L1010.7,799.8 L1001.0,821.0 L960.6,817.3Z" fill="#0072e3"/>
<path d="M918.5,824.6 L967.8,810.1 L960.6,817.3 L910.0,831.8Z" fill="#0072e3"/>
<path d="M863.1,847.4 L918.5,824.6 L910.0,831.8 L852.2,853.4Z" fill="#006de4"/>
<path d="M819.7,854.7 L863.1,847.4 L852.2,853.4 L807.6,865.0Z" fill="#006de4"/>
<path d="M768.3,858.1 L819.7,854.7 L807.6,865.0 L759.0,854.0Z" fill="#0072e3"/>
<path d="M1462.8,535.3 L1509.1,502.3 L1497.5,537.6 L1453.1,578.1Z" fill="#00b4b0"/>
<path d="M1409.7,562.7 L1462.8,535.3 L1453.1,578.1 L1404.0,598.4Z" fill="#00b2b6"/>
<path d="M1365.4,581.0 L1409.7,562.7 L1404.0,598.4 L1355.7,623.4Z" fill="#00b0bb"/>
<path d="M1317.2,619.6 L1365.4,581.0 L1355.7,623.4 L1308.9,638.8Z" fill="#00a8c9"/>
<path d="M1266.9,649.0 L1317.2,619.6 L1308.9,638.8 L1258.2,682.3Z" fill="#00a2d0"/>
<path d="M1213.4,677.7 L1266.9,649.0 L1258.2,682.3 L1207.4,701.8Z" fill="#009ad4"/>
<path d="M1167.6,698.2 L1213.4,677.7 L1207.4,701.8 L1160.4,728.3Z" fill="#0095d5"/>
<path d="M1114.9,727.7 L1167.6,698.2 L1160.4,728.3 L1106.6,758.4Z" fill="#008ad6"/>
<path d="M1069.5,753.5 L1114.9,727.7 L1106.6,758.4 L1060.3,775.7Z" fill="#0082da"/>
<path d="M1020.4,776.6 L1069.5,753.5 L1060.3,775.7 L1010.7,799.8Z" fill="#007edc"/>
<path d="M972.7,788.4 L1020.4,776.6 L1010.7,799.8 L967.8,810.1Z" fill="#007edc"/>
<path d="M925.7,801.7 L972.7,788.4 L967.8,810.1 L918.5,824.6Z" fill="#007edc"/>
<path d="M869.1,837.8 L925.7,801.7 L918.5,824.6 L863.1,847.4Z" fill="#0072e3"/>
<path d="M828.2,852.2 L869.1,837.8 L863.1,847.4 L819.7,854.7Z" fill="#0072e3"/>
<path d="M777.6,862.3 L828.2,852.2 L819.7,854.7 L768.3,858.1Z" fill="#0072e3"/>
<path d="M1469.5,490.4 L1515.8,449.9 L1509.1,502.3 L1462.8,535.3Z" fill="#00bf8a"/>
<path d="M1421.3,516.4 L1469.5,490.4 L1462.8,535.3 L1409.7,562.7Z" fill="#00be91"/>
<path d="M1373.1,544.4 L1421.3,516.4 L1409.7,562.7 L1365.4,581.0Z" fill="#00ba9e"/>
<path d="M1324.9,573.3 L1373.1,544.4 L1365.4,581.0 L1317.2,619.6Z" fill="#00b6aa"/>
<path d="M1272.7,620.0 L1324.9,573.3 L1317.2,619.6 L1266.9,649.0Z" fill="#00adc0"/>
<path d="M1223.0,653.6 L1272.7,620.0 L1266.9,649.0 L1213.4,677.7Z" fill="#00a5cc"/>
<path d="M1176.1,662.0 L1223.0,653.6 L1213.4,677.7 L1167.6,698.2Z" fill="#00a8c9"/>
<path d="M1121.4,718.9 L1176.1,662.0 L1167.6,698.2 L1114.9,727.7Z" fill="#008fd6"/>
<path d="M1078.0,735.0 L1121.4,718.9 L1114.9,727.7 L1069.5,753.5Z" fill="#008fd6"/>
<path d="M1030.0,755.4 L1078.0,735.0 L1069.5,753.5 L1020.4,776.6Z" fill="#008ad6"/>
<path d="M981.6,767.0 L1030.0,755.4 L1020.4,776.6 L972.7,788.4Z" fill="#008ad6"/>
<path d="M933.0,794.0 L981.6,767.0 L972.7,788.4 L925.7,801.7Z" fill="#0086d8"/>
<path d="M878.7,828.2 L933.0,794.0 L925.7,801.7 L869.1,837.8Z" fill="#007ade"/>
<path d="M833.0,842.6 L878.7,828.2 L869.1,837.8 L828.2,852.2Z" fill="#007ade"/>
<path d="M787.0,866.5 L833.0,842.6 L828.2,852.2 L777.6,862.3Z" fill="#0072e3"/>
<path d="M1475.3,459.5 L1526.4,408.4 L1515.8,449.9 L1469.5,490.4Z" fill="#7bc06e"/>
<path d="M1430.0,485.6 L1475.3,459.5 L1469.5,490.4 L1421.3,516.4Z" fill="#4ec078"/>
<path d="M1379.3,507.7 L1430.0,485.6 L1421.3,516.4 L1373.1,544.4Z" fill="#29c07e"/>
<path d="M1331.3,544.7 L1379.3,507.7 L1373.1,544.4 L1324.9,573.3Z" fill="#00be91"/>
<path d="M1284.0,591.9 L1331.3,544.7 L1324.9,573.3 L1272.7,620.0Z" fill="#00b6aa"/>
<path d="M1234.9,614.2 L1284.0,591.9 L1272.7,620.0 L1223.0,653.6Z" fill="#00b4b0"/>
<path d="M1187.3,644.3 L1234.9,614.2 L1223.0,653.6 L1176.1,662.0Z" fill="#00adc0"/>
<path d="M1137.0,673.0 L1187.3,644.3 L1176.1,662.0 L1121.4,718.9Z" fill="#00abc4"/>
<path d="M1088.4,711.0 L1137.0,673.0 L1121.4,718.9 L1078.0,735.0Z" fill="#009ed2"/>
<path d="M1042.0,732.6 L1088.4,711.0 L1078.0,735.0 L1030.0,755.4Z" fill="#009ad4"/>
<path d="M992.0,765.6 L1042.0,732.6 L1030.0,755.4 L981.6,767.0Z" fill="#008fd6"/>
<path d="M943.3,791.4 L992.0,765.6 L981.6,767.0 L933.0,794.0Z" fill="#0086d8"/>
<path d="M894.7,813.1 L943.3,791.4 L933.0,794.0 L878.7,828.2Z" fill="#0082da"/>
<path d="M844.0,828.2 L894.7,813.1 L878.7,828.2 L833.0,842.6Z" fill="#0082da"/>
<path d="M796.3,870.7 L844.0,828.2 L833.0,842.6 L787.0,866.5Z" fill="#0072e3"/>
</g>
<text class="t" transform="translate(198.2,137.5) scale(1,1.050)" text-anchor="end">1</text>
<text class="t" transform="translate(200.2,256.5) scale(1,1.050)" text-anchor="end">0.8</text>
<text class="t" transform="translate(200.2,375.5) scale(1,1.050)" text-anchor="end">0.6</text>
<text class="t" transform="translate(200.2,494.5) scale(1,1.050)" text-anchor="end">0.4</text>
<text class="t" transform="translate(200.2,613.5) scale(1,1.050)" text-anchor="end">0.2</text>
<text class="t" transform="translate(199.7,731.5) scale(1,1.050)" text-anchor="end">0</text>
<text class="t" transform="translate(196.4,788.5) scale(1,1.050)" text-anchor="end">1080</text>
<text class="t" transform="translate(291.6,830.5) scale(1,1.050)" text-anchor="end">900</text>
<text class="t" transform="translate(383.7,872.0) scale(1,1.050)" text-anchor="end">720</text>
<text class="t" transform="translate(476.8,913.3) scale(1,1.050)" text-anchor="end">540</text>
<text class="t" transform="translate(571.5,954.2) scale(1,1.050)" text-anchor="end">360</text>
<text class="t" transform="translate(664.3,995.0) scale(1,1.050)" text-anchor="end">180</text>
<text class="t" transform="translate(756.4,1035.2) scale(1,1.050)" text-anchor="end">0</text>
<text class="t" transform="translate(830.9,1043.0) scale(1,1.050)" text-anchor="start">0</text>
<text class="t" transform="translate(1074.2,979.3) scale(1,1.050)" text-anchor="start">0.1</text>
<text class="t" transform="translate(1318.2,916.5) scale(1,1.050)" text-anchor="start">0.2</text>
<text class="t" transform="translate(1561.2,852.5) scale(1,1.050)" text-anchor="start">0.3</text>
<text class="l" x="29.1" y="1033.5" text-anchor="start">Phase of harmonic (degrees)</text>
<text class="l" x="984.4" y="1033.5" text-anchor="start">7th current amplitude (A)</text>
<text class="l" style="fill:#2a2a2a" transform="translate(84.0,881.0) rotate(-90)">6th harmonic radial vibration (m/s<tspan dx="1" dy="-26.5" style="font-size:40.0px">2</tspan><tspan dx="4" dy="26.5">)</tspan></text>
</svg></body></html>
